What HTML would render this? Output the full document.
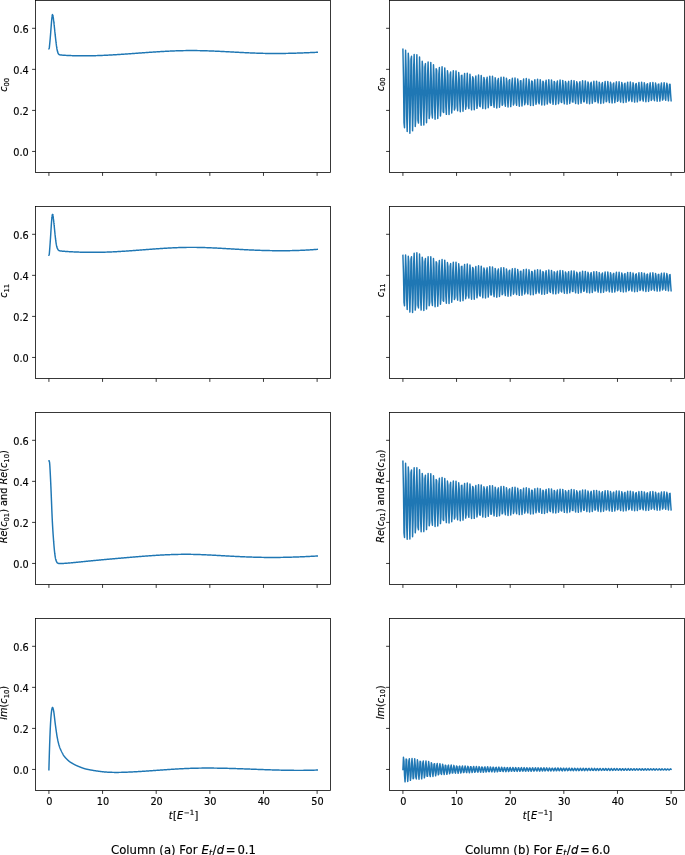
<!DOCTYPE html>
<html><head><meta charset="utf-8"><title>Figure</title>
<style>html,body{margin:0;padding:0;background:#fff}body{width:685px;height:855px;overflow:hidden}</style>
</head><body>
<svg width="685" height="855" viewBox="0 0 685 855" style="display:block">
<rect width="685" height="855" fill="#fff"/>
<g fill="none" stroke="#1f77b4" stroke-width="1.46" stroke-linejoin="round" stroke-linecap="square">
<path d="M48.90,48.80 L48.94,48.78 L48.97,48.76 L49.01,48.72 L49.05,48.67 L49.08,48.60 L49.12,48.51 L49.15,48.39 L49.19,48.26 L49.23,48.10 L49.26,47.91 L49.30,47.68 L49.34,47.43 L49.37,47.14 L49.41,46.82 L49.45,46.48 L49.48,46.14 L49.52,45.79 L49.55,45.44 L49.59,45.09 L49.63,44.73 L49.66,44.37 L49.70,44.01 L49.74,43.64 L49.77,43.27 L49.81,42.89 L49.84,42.51 L49.88,42.12 L49.92,41.74 L49.95,41.34 L49.99,40.95 L50.03,40.55 L50.06,40.15 L50.10,39.74 L50.14,39.33 L50.17,38.91 L50.21,38.49 L50.24,38.07 L50.28,37.65 L50.32,37.22 L50.35,36.78 L50.39,36.35 L50.43,35.91 L50.46,35.46 L50.50,35.01 L50.54,34.56 L50.57,34.10 L50.61,33.64 L50.64,33.18 L50.68,32.71 L50.72,32.24 L50.75,31.77 L50.79,31.30 L50.83,30.82 L50.86,30.35 L50.90,29.87 L50.94,29.39 L50.97,28.92 L51.01,28.44 L51.04,27.96 L51.08,27.49 L51.12,27.01 L51.15,26.54 L51.19,26.07 L51.23,25.60 L51.26,25.13 L51.30,24.67 L51.33,24.21 L51.37,23.76 L51.41,23.31 L51.44,22.86 L51.48,22.43 L51.52,22.00 L51.55,21.58 L51.59,21.17 L51.63,20.77 L51.66,20.37 L51.70,19.98 L51.73,19.60 L51.77,19.22 L51.81,18.86 L51.84,18.49 L51.88,18.14 L51.92,17.79 L51.95,17.44 L51.99,17.10 L52.03,16.77 L52.06,16.47 L52.10,16.18 L52.13,15.92 L52.17,15.69 L52.21,15.47 L52.24,15.28 L52.28,15.12 L52.32,14.97 L52.35,14.85 L52.39,14.75 L52.43,14.67 L52.46,14.62 L52.50,14.58 L52.53,14.57 L52.57,14.58 L52.61,14.61 L52.64,14.65 L52.68,14.71 L52.72,14.78 L52.75,14.86 L52.79,14.95 L52.82,15.06 L52.86,15.18 L52.90,15.32 L52.93,15.47 L52.97,15.63 L53.01,15.81 L53.04,16.00 L53.08,16.20 L53.12,16.43 L53.15,16.66 L53.19,16.91 L53.22,17.18 L53.26,17.45 L53.30,17.71 L53.33,17.98 L53.37,18.25 L53.41,18.52 L53.44,18.80 L53.48,19.07 L53.52,19.35 L53.55,19.63 L53.59,19.91 L53.62,20.20 L53.66,20.49 L53.70,20.78 L53.73,21.08 L53.77,21.38 L53.81,21.68 L53.84,21.99 L53.88,22.31 L53.92,22.63 L53.95,22.96 L53.99,23.29 L54.02,23.62 L54.06,23.96 L54.10,24.30 L54.13,24.65 L54.17,25.00 L54.21,25.34 L54.24,25.69 L54.28,26.05 L54.31,26.40 L54.35,26.76 L54.39,27.11 L54.42,27.47 L54.46,27.83 L54.50,28.18 L54.53,28.54 L54.57,28.90 L54.61,29.26 L54.64,29.62 L54.68,29.98 L54.71,30.34 L54.75,30.70 L54.79,31.05 L54.82,31.41 L54.86,31.76 L54.90,32.12 L54.93,32.47 L54.97,32.82 L55.01,33.17 L55.04,33.52 L55.08,33.86 L55.11,34.20 L55.15,34.54 L55.19,34.88 L55.22,35.21 L55.26,35.55 L55.30,35.88 L55.33,36.21 L55.37,36.54 L55.41,36.87 L55.44,37.19 L55.48,37.52 L55.51,37.84 L55.55,38.17 L55.59,38.49 L55.62,38.81 L55.66,39.12 L55.70,39.44 L55.73,39.75 L55.77,40.07 L55.80,40.38 L55.84,40.69 L55.88,41.00 L55.91,41.30 L55.95,41.61 L55.99,41.91 L56.02,42.21 L56.06,42.51 L56.10,42.80 L56.13,43.10 L56.17,43.39 L56.20,43.68 L56.24,43.97 L56.28,44.25 L56.31,44.54 L56.35,44.82 L56.39,45.10 L56.42,45.38 L56.46,45.65 L56.50,45.93 L56.53,46.20 L56.57,46.47 L56.60,46.73 L56.64,46.99 L56.68,47.24 L56.71,47.49 L56.75,47.73 L56.79,47.96 L56.82,48.19 L56.86,48.41 L56.89,48.62 L56.93,48.83 L56.97,49.03 L57.00,49.23 L57.04,49.42 L57.08,49.60 L57.11,49.78 L57.15,49.95 L57.19,50.12 L57.22,50.29 L57.26,50.45 L57.29,50.60 L57.33,50.75 L57.37,50.90 L57.40,51.04 L57.44,51.18 L57.48,51.31 L57.51,51.45 L57.55,51.58 L57.59,51.70 L57.62,51.83 L57.66,51.96 L57.69,52.08 L57.73,52.20 L57.77,52.32 L57.80,52.43 L57.84,52.54 L57.88,52.65 L57.91,52.76 L57.95,52.86 L57.99,52.96 L58.02,53.06 L58.06,53.15 L58.09,53.24 L58.13,53.32 L58.17,53.40 L58.20,53.48 L58.24,53.55 L58.28,53.61 L58.31,53.68 L58.35,53.73 L58.38,53.78 L58.42,53.83 L58.46,53.87 L58.49,53.92 L58.53,53.96 L58.57,54.00 L58.60,54.05 L58.64,54.09 L58.68,54.13 L58.71,54.17 L58.75,54.21 L58.78,54.25 L58.82,54.29 L58.86,54.33 L58.89,54.37 L58.93,54.40 L58.97,54.44 L59.00,54.47 L59.04,54.50 L59.08,54.53 L59.11,54.56 L59.15,54.59 L59.18,54.62 L59.22,54.64 L59.26,54.67 L59.29,54.69 L59.33,54.71 L59.37,54.73 L59.40,54.74 L59.44,54.76 L59.48,54.77 L59.51,54.78 L59.55,54.79 L59.58,54.80 L59.62,54.80 L59.66,54.81 L59.69,54.81 L59.73,54.82 L59.77,54.82 L59.80,54.83 L59.84,54.83 L59.87,54.84 L59.91,54.84 L59.95,54.84 L59.98,54.85 L60.02,54.85 L60.06,54.86 L60.09,54.86 L60.13,54.87 L60.17,54.87 L60.20,54.88 L60.24,54.88 L60.27,54.89 L60.31,54.89 L60.35,54.90 L60.38,54.90 L60.42,54.91 L60.46,54.91 L60.49,54.91 L60.53,54.92 L60.57,54.92 L60.60,54.93 L60.64,54.93 L60.67,54.94 L60.71,54.94 L60.75,54.95 L60.78,54.95 L60.82,54.96 L60.86,54.96 L60.89,54.96 L60.93,54.97 L60.97,54.97 L61.00,54.98 L61.04,54.98 L61.07,54.99 L61.11,54.99 L61.15,55.00 L61.18,55.00 L61.22,55.00 L61.26,55.01 L61.29,55.01 L61.33,55.02 L61.36,55.02 L61.40,55.03 L61.44,55.03 L61.47,55.03 L61.51,55.04 L61.55,55.04 L61.58,55.05 L61.62,55.05 L61.66,55.06 L61.69,55.06 L61.73,55.06 L61.76,55.07 L61.80,55.07 L61.84,55.08 L61.87,55.08 L61.91,55.08 L61.95,55.09 L61.98,55.09 L62.02,55.09 L62.06,55.10 L62.09,55.10 L62.13,55.11 L62.16,55.11 L62.20,55.11 L62.24,55.12 L62.27,55.12 L62.31,55.12 L62.35,55.13 L62.38,55.13 L62.42,55.13 L62.46,55.14 L62.49,55.14 L62.53,55.14 L62.56,55.15 L62.60,55.15 L62.64,55.15 L62.67,55.16 L62.71,55.16 L62.75,55.16 L62.78,55.17 L62.82,55.17 L62.85,55.17 L62.89,55.18 L62.93,55.18 L62.96,55.18 L63.00,55.18 L63.04,55.19 L63.07,55.19 L63.11,55.19 L63.15,55.19 L63.18,55.20 L63.22,55.20 L63.25,55.20 L63.29,55.20 L63.33,55.21 L63.36,55.21 L63.40,55.21 L63.72,55.23 L64.04,55.25 L64.35,55.27 L64.67,55.29 L64.99,55.31 L65.31,55.33 L65.62,55.35 L65.94,55.36 L66.26,55.38 L66.58,55.40 L66.90,55.42 L67.21,55.43 L67.53,55.45 L67.85,55.46 L68.17,55.48 L68.48,55.49 L68.80,55.51 L69.12,55.52 L69.44,55.54 L69.76,55.55 L70.07,55.56 L70.39,55.58 L70.71,55.59 L71.03,55.60 L71.34,55.61 L71.66,55.63 L71.98,55.64 L72.30,55.65 L72.62,55.66 L72.93,55.67 L73.25,55.68 L73.57,55.69 L73.89,55.70 L74.20,55.71 L74.52,55.72 L74.84,55.72 L75.16,55.73 L75.48,55.74 L75.79,55.75 L76.11,55.75 L76.43,55.76 L76.75,55.77 L77.06,55.77 L77.38,55.78 L77.70,55.79 L78.02,55.79 L78.34,55.80 L78.65,55.80 L78.97,55.80 L79.29,55.81 L79.61,55.81 L79.92,55.82 L80.24,55.82 L80.56,55.82 L80.88,55.82 L81.20,55.83 L81.51,55.83 L81.83,55.83 L82.15,55.83 L82.47,55.83 L82.78,55.83 L83.10,55.83 L83.42,55.83 L83.74,55.83 L84.06,55.83 L84.37,55.83 L84.69,55.83 L85.01,55.83 L85.33,55.83 L85.64,55.83 L85.96,55.83 L86.28,55.82 L86.60,55.82 L86.92,55.82 L87.23,55.82 L87.55,55.81 L87.87,55.81 L88.19,55.81 L88.50,55.80 L88.82,55.80 L89.14,55.79 L89.46,55.79 L89.78,55.78 L90.09,55.78 L90.41,55.77 L90.73,55.77 L91.05,55.76 L91.36,55.76 L91.68,55.75 L92.00,55.74 L92.32,55.74 L92.64,55.73 L92.95,55.72 L93.27,55.71 L93.59,55.71 L93.91,55.70 L94.22,55.69 L94.54,55.68 L94.86,55.67 L95.18,55.66 L95.49,55.65 L95.81,55.65 L96.13,55.64 L96.45,55.63 L96.77,55.62 L97.08,55.61 L97.40,55.60 L97.72,55.59 L98.04,55.57 L98.35,55.56 L98.67,55.55 L98.99,55.54 L99.31,55.53 L99.63,55.52 L99.94,55.51 L100.26,55.49 L100.58,55.48 L100.90,55.47 L101.21,55.46 L101.53,55.44 L101.85,55.43 L102.17,55.42 L102.49,55.40 L102.80,55.39 L103.12,55.38 L103.44,55.36 L103.76,55.35 L104.07,55.33 L104.39,55.32 L104.71,55.30 L105.03,55.29 L105.35,55.28 L105.66,55.26 L105.98,55.24 L106.30,55.23 L106.62,55.21 L106.93,55.20 L107.25,55.18 L107.57,55.17 L107.89,55.15 L108.21,55.13 L108.52,55.12 L108.84,55.10 L109.16,55.08 L109.48,55.07 L109.79,55.05 L110.11,55.03 L110.43,55.01 L110.75,55.00 L111.07,54.98 L111.38,54.96 L111.70,54.94 L112.02,54.93 L112.34,54.91 L112.65,54.89 L112.97,54.87 L113.29,54.85 L113.61,54.83 L113.93,54.81 L114.24,54.80 L114.56,54.78 L114.88,54.76 L115.20,54.74 L115.51,54.72 L115.83,54.70 L116.15,54.68 L116.47,54.66 L116.79,54.64 L117.10,54.62 L117.42,54.60 L117.74,54.58 L118.06,54.56 L118.37,54.54 L118.69,54.52 L119.01,54.50 L119.33,54.48 L119.65,54.46 L119.96,54.44 L120.28,54.41 L120.60,54.39 L120.92,54.37 L121.23,54.35 L121.55,54.33 L121.87,54.31 L122.19,54.29 L122.51,54.27 L122.82,54.24 L123.14,54.22 L123.46,54.20 L123.78,54.18 L124.09,54.16 L124.41,54.14 L124.73,54.11 L125.05,54.09 L125.37,54.07 L125.68,54.05 L126.00,54.03 L126.32,54.00 L126.64,53.98 L126.95,53.96 L127.27,53.94 L127.59,53.91 L127.91,53.89 L128.23,53.87 L128.54,53.85 L128.86,53.82 L129.18,53.80 L129.50,53.78 L129.81,53.75 L130.13,53.73 L130.45,53.71 L130.77,53.69 L131.09,53.66 L131.40,53.64 L131.72,53.62 L132.04,53.59 L132.36,53.57 L132.67,53.55 L132.99,53.52 L133.31,53.50 L133.63,53.48 L133.95,53.45 L134.26,53.43 L134.58,53.41 L134.90,53.38 L135.22,53.36 L135.53,53.34 L135.85,53.31 L136.17,53.29 L136.49,53.27 L136.81,53.24 L137.12,53.22 L137.44,53.20 L137.76,53.17 L138.08,53.15 L138.39,53.13 L138.71,53.10 L139.03,53.08 L139.35,53.06 L139.67,53.03 L139.98,53.01 L140.30,52.99 L140.62,52.97 L140.94,52.94 L141.25,52.92 L141.57,52.90 L141.89,52.87 L142.21,52.85 L142.53,52.83 L142.84,52.80 L143.16,52.78 L143.48,52.76 L143.80,52.73 L144.11,52.71 L144.43,52.69 L144.75,52.66 L145.07,52.64 L145.39,52.62 L145.70,52.60 L146.02,52.57 L146.34,52.55 L146.66,52.53 L146.97,52.51 L147.29,52.48 L147.61,52.46 L147.93,52.44 L148.25,52.42 L148.56,52.39 L148.88,52.37 L149.20,52.35 L149.52,52.33 L149.83,52.30 L150.15,52.28 L150.47,52.26 L150.79,52.24 L151.11,52.22 L151.42,52.19 L151.74,52.17 L152.06,52.15 L152.38,52.13 L152.69,52.11 L153.01,52.09 L153.33,52.07 L153.65,52.04 L153.97,52.02 L154.28,52.00 L154.60,51.98 L154.92,51.96 L155.24,51.94 L155.55,51.92 L155.87,51.90 L156.19,51.88 L156.51,51.86 L156.83,51.84 L157.14,51.82 L157.46,51.80 L157.78,51.78 L158.10,51.76 L158.41,51.74 L158.73,51.72 L159.05,51.70 L159.37,51.68 L159.68,51.66 L160.00,51.64 L160.32,51.62 L160.64,51.60 L160.96,51.58 L161.27,51.56 L161.59,51.54 L161.91,51.53 L162.23,51.51 L162.54,51.49 L162.86,51.47 L163.18,51.45 L163.50,51.43 L163.82,51.42 L164.13,51.40 L164.45,51.38 L164.77,51.36 L165.09,51.35 L165.40,51.33 L165.72,51.31 L166.04,51.30 L166.36,51.28 L166.68,51.26 L166.99,51.25 L167.31,51.23 L167.63,51.21 L167.95,51.20 L168.26,51.18 L168.58,51.17 L168.90,51.15 L169.22,51.14 L169.54,51.12 L169.85,51.11 L170.17,51.09 L170.49,51.08 L170.81,51.06 L171.12,51.05 L171.44,51.03 L171.76,51.02 L172.08,51.01 L172.40,50.99 L172.71,50.98 L173.03,50.96 L173.35,50.95 L173.67,50.94 L173.98,50.93 L174.30,50.91 L174.62,50.90 L174.94,50.89 L175.26,50.88 L175.57,50.87 L175.89,50.85 L176.21,50.84 L176.53,50.83 L176.84,50.82 L177.16,50.81 L177.48,50.80 L177.80,50.79 L178.12,50.78 L178.43,50.77 L178.75,50.76 L179.07,50.75 L179.39,50.74 L179.70,50.73 L180.02,50.72 L180.34,50.71 L180.66,50.71 L180.98,50.70 L181.29,50.69 L181.61,50.68 L181.93,50.67 L182.25,50.67 L182.56,50.66 L182.88,50.65 L183.20,50.65 L183.52,50.64 L183.84,50.63 L184.15,50.63 L184.47,50.62 L184.79,50.62 L185.11,50.61 L185.42,50.61 L185.74,50.60 L186.06,50.60 L186.38,50.59 L186.70,50.59 L187.01,50.59 L187.33,50.58 L187.65,50.58 L187.97,50.58 L188.28,50.57 L188.60,50.57 L188.92,50.57 L189.24,50.57 L189.56,50.56 L189.87,50.56 L190.19,50.56 L190.51,50.56 L190.83,50.56 L191.14,50.56 L191.46,50.56 L191.78,50.56 L192.10,50.56 L192.42,50.56 L192.73,50.56 L193.05,50.56 L193.37,50.57 L193.69,50.57 L194.00,50.57 L194.32,50.57 L194.64,50.57 L194.96,50.58 L195.28,50.58 L195.59,50.58 L195.91,50.59 L196.23,50.59 L196.55,50.59 L196.86,50.60 L197.18,50.60 L197.50,50.61 L197.82,50.61 L198.14,50.62 L198.45,50.62 L198.77,50.63 L199.09,50.63 L199.41,50.64 L199.72,50.64 L200.04,50.65 L200.36,50.66 L200.68,50.66 L201.00,50.67 L201.31,50.68 L201.63,50.68 L201.95,50.69 L202.27,50.70 L202.58,50.71 L202.90,50.72 L203.22,50.72 L203.54,50.73 L203.86,50.74 L204.17,50.75 L204.49,50.76 L204.81,50.77 L205.13,50.78 L205.44,50.79 L205.76,50.80 L206.08,50.81 L206.40,50.82 L206.72,50.83 L207.03,50.84 L207.35,50.85 L207.67,50.86 L207.99,50.87 L208.30,50.88 L208.62,50.89 L208.94,50.90 L209.26,50.91 L209.58,50.92 L209.89,50.94 L210.21,50.95 L210.53,50.96 L210.85,50.97 L211.16,50.98 L211.48,51.00 L211.80,51.01 L212.12,51.02 L212.44,51.03 L212.75,51.05 L213.07,51.06 L213.39,51.07 L213.71,51.09 L214.02,51.10 L214.34,51.11 L214.66,51.13 L214.98,51.14 L215.30,51.15 L215.61,51.17 L215.93,51.18 L216.25,51.20 L216.57,51.21 L216.88,51.23 L217.20,51.24 L217.52,51.25 L217.84,51.27 L218.16,51.28 L218.47,51.30 L218.79,51.31 L219.11,51.33 L219.43,51.34 L219.74,51.36 L220.06,51.37 L220.38,51.39 L220.70,51.41 L221.02,51.42 L221.33,51.44 L221.65,51.45 L221.97,51.47 L222.29,51.48 L222.60,51.50 L222.92,51.52 L223.24,51.53 L223.56,51.55 L223.87,51.56 L224.19,51.58 L224.51,51.60 L224.83,51.61 L225.15,51.63 L225.46,51.64 L225.78,51.66 L226.10,51.68 L226.42,51.69 L226.73,51.71 L227.05,51.73 L227.37,51.74 L227.69,51.76 L228.01,51.78 L228.32,51.79 L228.64,51.81 L228.96,51.83 L229.28,51.84 L229.59,51.86 L229.91,51.88 L230.23,51.89 L230.55,51.91 L230.87,51.93 L231.18,51.95 L231.50,51.96 L231.82,51.98 L232.14,52.00 L232.45,52.01 L232.77,52.03 L233.09,52.05 L233.41,52.06 L233.73,52.08 L234.04,52.10 L234.36,52.11 L234.68,52.13 L235.00,52.15 L235.31,52.16 L235.63,52.18 L235.95,52.20 L236.27,52.21 L236.59,52.23 L236.90,52.25 L237.22,52.27 L237.54,52.28 L237.86,52.30 L238.17,52.32 L238.49,52.33 L238.81,52.35 L239.13,52.36 L239.45,52.38 L239.76,52.40 L240.08,52.41 L240.40,52.43 L240.72,52.45 L241.03,52.46 L241.35,52.48 L241.67,52.50 L241.99,52.51 L242.31,52.53 L242.62,52.54 L242.94,52.56 L243.26,52.58 L243.58,52.59 L243.89,52.61 L244.21,52.62 L244.53,52.64 L244.85,52.65 L245.17,52.67 L245.48,52.68 L245.80,52.70 L246.12,52.71 L246.44,52.73 L246.75,52.74 L247.07,52.76 L247.39,52.77 L247.71,52.79 L248.03,52.80 L248.34,52.82 L248.66,52.83 L248.98,52.85 L249.30,52.86 L249.61,52.88 L249.93,52.89 L250.25,52.90 L250.57,52.92 L250.89,52.93 L251.20,52.94 L251.52,52.96 L251.84,52.97 L252.16,52.98 L252.47,53.00 L252.79,53.01 L253.11,53.02 L253.43,53.04 L253.75,53.05 L254.06,53.06 L254.38,53.07 L254.70,53.09 L255.02,53.10 L255.33,53.11 L255.65,53.12 L255.97,53.13 L256.29,53.14 L256.61,53.16 L256.92,53.17 L257.24,53.18 L257.56,53.19 L257.88,53.20 L258.19,53.21 L258.51,53.22 L258.83,53.23 L259.15,53.24 L259.47,53.25 L259.78,53.26 L260.10,53.27 L260.42,53.28 L260.74,53.29 L261.05,53.30 L261.37,53.31 L261.69,53.32 L262.01,53.32 L262.33,53.33 L262.64,53.34 L262.96,53.35 L263.28,53.36 L263.60,53.36 L263.91,53.37 L264.23,53.38 L264.55,53.39 L264.87,53.39 L265.19,53.40 L265.50,53.41 L265.82,53.41 L266.14,53.42 L266.46,53.42 L266.77,53.43 L267.09,53.43 L267.41,53.44 L267.73,53.44 L268.05,53.45 L268.36,53.45 L268.68,53.46 L269.00,53.46 L269.32,53.47 L269.63,53.47 L269.95,53.47 L270.27,53.48 L270.59,53.48 L270.91,53.48 L271.22,53.48 L271.54,53.49 L271.86,53.49 L272.18,53.49 L272.49,53.49 L272.81,53.49 L273.13,53.50 L273.45,53.50 L273.77,53.50 L274.08,53.50 L274.40,53.50 L274.72,53.50 L275.04,53.50 L275.35,53.50 L275.67,53.50 L275.99,53.50 L276.31,53.50 L276.63,53.50 L276.94,53.50 L277.26,53.50 L277.58,53.49 L277.90,53.49 L278.21,53.49 L278.53,53.49 L278.85,53.49 L279.17,53.48 L279.49,53.48 L279.80,53.48 L280.12,53.48 L280.44,53.47 L280.76,53.47 L281.07,53.47 L281.39,53.46 L281.71,53.46 L282.03,53.46 L282.35,53.45 L282.66,53.45 L282.98,53.45 L283.30,53.44 L283.62,53.44 L283.93,53.43 L284.25,53.43 L284.57,53.42 L284.89,53.42 L285.21,53.41 L285.52,53.41 L285.84,53.40 L286.16,53.39 L286.48,53.39 L286.79,53.38 L287.11,53.38 L287.43,53.37 L287.75,53.36 L288.06,53.36 L288.38,53.35 L288.70,53.34 L289.02,53.33 L289.34,53.33 L289.65,53.32 L289.97,53.31 L290.29,53.31 L290.61,53.30 L290.92,53.29 L291.24,53.28 L291.56,53.27 L291.88,53.26 L292.20,53.26 L292.51,53.25 L292.83,53.24 L293.15,53.23 L293.47,53.22 L293.78,53.21 L294.10,53.20 L294.42,53.19 L294.74,53.18 L295.06,53.17 L295.37,53.17 L295.69,53.16 L296.01,53.15 L296.33,53.14 L296.64,53.13 L296.96,53.12 L297.28,53.10 L297.60,53.09 L297.92,53.08 L298.23,53.07 L298.55,53.06 L298.87,53.05 L299.19,53.04 L299.50,53.03 L299.82,53.02 L300.14,53.01 L300.46,53.00 L300.78,52.98 L301.09,52.97 L301.41,52.96 L301.73,52.95 L302.05,52.94 L302.36,52.93 L302.68,52.91 L303.00,52.90 L303.32,52.89 L303.64,52.88 L303.95,52.86 L304.27,52.85 L304.59,52.84 L304.91,52.83 L305.22,52.81 L305.54,52.80 L305.86,52.79 L306.18,52.78 L306.50,52.76 L306.81,52.75 L307.13,52.74 L307.45,52.72 L307.77,52.71 L308.08,52.70 L308.40,52.68 L308.72,52.67 L309.04,52.66 L309.36,52.64 L309.67,52.63 L309.99,52.62 L310.31,52.60 L310.63,52.59 L310.94,52.57 L311.26,52.56 L311.58,52.55 L311.90,52.53 L312.22,52.52 L312.53,52.50 L312.85,52.49 L313.17,52.47 L313.49,52.46 L313.80,52.45 L314.12,52.43 L314.44,52.42 L314.76,52.40 L315.08,52.39 L315.39,52.37 L315.71,52.36 L316.03,52.34 L316.35,52.33 L316.66,52.31 L316.98,52.30 L317.30,52.28"/>
<path d="M402.91,49.34 L403.45,76.49 L403.98,122.62 L404.52,127.70 L405.06,85.12 L405.59,50.25 L406.13,68.45 L406.66,116.15 L407.20,131.46 L407.74,94.52 L408.27,53.22 L408.81,61.14 L409.35,108.08 L409.88,133.31 L410.42,104.04 L410.96,59.07 L411.49,56.33 L412.03,98.54 L412.57,130.86 L413.10,112.19 L413.64,67.47 L414.17,54.42 L414.71,89.15 L415.25,126.41 L415.78,118.61 L416.32,76.64 L416.86,54.80 L417.39,80.61 L417.93,120.33 L418.47,123.10 L419.00,86.00 L419.54,57.10 L420.07,73.20 L420.61,112.95 L421.15,125.25 L421.68,94.90 L422.22,61.34 L422.76,67.41 L423.29,104.65 L423.83,125.07 L424.37,102.96 L424.90,67.22 L425.44,63.61 L425.98,96.14 L426.51,122.77 L427.05,109.70 L427.58,74.27 L428.12,61.95 L428.66,88.00 L429.19,118.61 L429.73,114.76 L430.27,81.96 L430.80,62.41 L431.34,80.74 L431.88,112.97 L432.41,117.90 L432.95,89.73 L433.48,64.79 L434.02,74.73 L434.56,106.40 L435.09,119.19 L435.63,97.09 L436.17,68.73 L436.70,70.25 L437.24,99.26 L437.78,118.46 L438.31,103.58 L438.85,74.04 L439.39,67.59 L439.92,92.07 L440.46,115.91 L440.99,108.81 L441.53,80.25 L442.07,66.82 L442.60,85.34 L443.14,111.80 L443.68,112.47 L444.21,86.87 L444.75,67.89 L445.29,79.52 L445.82,106.53 L446.36,114.39 L446.89,93.40 L447.43,70.63 L447.97,74.99 L448.50,100.53 L449.04,114.52 L449.58,99.36 L450.11,74.72 L450.65,71.99 L451.19,94.30 L451.72,112.96 L452.26,104.35 L452.80,79.78 L453.33,70.65 L453.87,88.30 L454.40,109.93 L454.94,108.11 L455.48,85.39 L456.01,70.87 L456.55,82.95 L457.09,106.04 L457.62,110.70 L458.16,91.20 L458.70,72.58 L459.23,78.52 L459.77,101.24 L460.30,111.73 L460.84,96.80 L461.38,75.68 L461.91,75.28 L462.45,95.94 L462.99,111.21 L463.52,101.77 L464.06,79.87 L464.60,73.46 L465.13,90.56 L465.67,109.24 L466.21,105.77 L466.74,84.80 L467.28,73.15 L467.81,85.54 L468.35,106.02 L468.89,108.52 L469.42,90.06 L469.96,74.30 L470.50,81.24 L471.03,101.87 L471.57,109.88 L472.11,95.24 L472.64,76.78 L473.18,77.99 L473.71,97.16 L474.25,109.80 L474.79,99.95 L475.32,80.35 L475.86,75.99 L476.40,92.25 L476.93,108.38 L477.47,103.86 L478.01,84.55 L478.54,75.09 L479.08,87.45 L479.62,105.78 L480.15,106.74 L480.69,89.21 L481.22,75.58 L481.76,83.15 L482.30,102.18 L482.83,108.40 L483.37,93.98 L483.91,77.36 L484.44,79.68 L484.98,97.89 L485.52,108.76 L486.05,98.51 L486.59,80.29 L487.12,77.30 L487.66,93.27 L488.20,107.79 L488.73,102.43 L489.27,84.09 L489.81,76.17 L490.34,88.67 L490.88,105.61 L491.42,105.43 L491.95,88.45 L492.49,76.35 L493.03,84.47 L493.56,102.40 L494.10,107.29 L494.63,93.01 L495.17,77.80 L495.71,81.00 L496.24,98.45 L496.78,107.90 L497.32,97.39 L497.85,80.38 L498.39,78.52 L498.93,94.09 L499.46,107.22 L500.00,101.25 L500.53,83.86 L501.07,77.21 L501.61,89.70 L502.14,105.35 L502.68,104.28 L503.22,87.93 L503.75,77.16 L504.29,85.62 L504.83,102.46 L505.36,106.25 L505.90,92.25 L506.44,78.33 L506.97,82.18 L507.51,98.82 L508.04,107.04 L508.58,96.46 L509.12,80.61 L509.65,79.65 L510.19,94.73 L510.73,106.61 L511.26,100.22 L511.80,83.78 L512.34,78.22 L512.87,90.54 L513.41,105.01 L513.94,103.24 L514.48,87.57 L515.02,77.97 L515.55,86.60 L516.09,102.41 L516.63,105.29 L517.16,91.65 L517.70,78.91 L518.24,83.23 L518.77,99.05 L519.31,106.21 L519.85,95.68 L520.38,80.89 L520.92,80.66 L521.45,95.21 L521.99,106.00 L522.53,99.34 L523.06,83.75 L523.60,79.06 L524.14,91.20 L524.67,104.67 L525.21,102.35 L525.75,87.25 L526.28,78.60 L526.82,87.35 L527.35,102.33 L527.89,104.47 L528.43,91.11 L528.96,79.27 L529.50,83.98 L530.04,99.19 L530.57,105.54 L531.11,95.00 L531.65,81.01 L532.18,81.36 L532.72,95.54 L533.26,105.49 L533.79,98.58 L534.33,83.66 L534.86,79.70 L535.40,91.69 L535.94,104.34 L536.47,101.57 L537.01,86.97 L537.55,79.11 L538.08,87.95 L538.62,102.20 L539.16,103.74 L539.69,90.66 L540.23,79.62 L540.76,84.64 L541.30,99.28 L541.84,104.91 L542.37,94.42 L542.91,81.18 L543.45,82.02 L543.98,95.81 L544.52,105.00 L545.06,97.93 L545.59,83.64 L546.13,80.30 L546.67,92.11 L547.20,104.02 L547.74,100.90 L548.27,86.77 L548.81,79.61 L549.35,88.48 L549.88,102.06 L550.42,103.09 L550.96,90.31 L551.49,79.99 L552.03,85.23 L552.57,99.32 L553.10,104.33 L553.64,93.94 L554.17,81.39 L554.71,82.62 L555.25,96.02 L555.78,104.53 L556.32,97.36 L556.86,83.68 L557.39,80.87 L557.93,92.46 L558.47,103.68 L559.00,100.29 L559.54,86.64 L560.08,80.10 L560.61,88.95 L561.15,101.89 L561.68,102.48 L562.22,90.02 L562.76,80.36 L563.29,85.76 L563.83,99.33 L564.37,103.81 L564.90,93.54 L565.44,81.60 L565.98,83.16 L566.51,96.21 L567.05,104.15 L567.58,96.91 L568.12,83.72 L568.66,81.35 L569.19,92.79 L569.73,103.48 L570.27,99.84 L570.80,86.54 L571.34,80.49 L571.88,89.36 L572.41,101.85 L572.95,102.09 L573.49,89.81 L574.02,80.63 L574.56,86.21 L575.09,99.43 L575.63,103.48 L576.17,93.25 L576.70,81.76 L577.24,83.61 L577.78,96.42 L578.31,103.90 L578.85,96.56 L579.39,83.76 L579.92,81.77 L580.46,93.10 L580.99,103.33 L581.53,99.48 L582.07,86.47 L582.60,80.85 L583.14,89.73 L583.68,101.81 L584.21,101.74 L584.75,89.64 L585.29,80.91 L585.82,86.62 L586.36,99.50 L586.90,103.17 L587.43,93.00 L587.97,81.93 L588.50,84.03 L589.04,96.60 L589.58,103.66 L590.11,96.26 L590.65,83.83 L591.19,82.17 L591.72,93.36 L592.26,103.16 L592.80,99.14 L593.33,86.43 L593.87,81.20 L594.40,90.07 L594.94,101.75 L595.48,101.41 L596.01,89.51 L596.55,81.19 L597.09,87.00 L597.62,99.54 L598.16,102.87 L598.70,92.78 L599.23,82.13 L599.77,84.43 L600.31,96.74 L600.84,103.41 L601.38,95.98 L601.91,83.93 L602.45,82.56 L602.99,93.59 L603.52,102.99 L604.06,98.83 L604.60,86.43 L605.13,81.55 L605.67,90.37 L606.21,101.66 L606.74,101.07 L607.28,89.39 L607.81,81.47 L608.35,87.34 L608.89,99.50 L609.42,102.51 L609.96,92.56 L610.50,82.32 L611.03,84.77 L611.57,96.77 L612.11,103.04 L612.64,95.65 L613.18,84.01 L613.72,82.90 L614.25,93.69 L614.79,102.64 L615.32,98.40 L615.86,86.38 L616.40,81.85 L616.93,90.53 L617.47,101.36 L618.01,100.59 L618.54,89.22 L619.08,81.72 L619.62,87.58 L620.15,99.32 L620.69,102.02 L621.22,92.28 L621.76,82.49 L622.30,85.06 L622.83,96.69 L623.37,102.59 L623.91,95.28 L624.44,84.08 L624.98,83.20 L625.52,93.72 L626.05,102.25 L626.59,97.97 L627.13,86.35 L627.66,82.14 L628.20,90.67 L628.73,101.06 L629.27,100.12 L629.81,89.08 L630.34,81.96 L630.88,87.79 L631.42,99.11 L631.95,101.55 L632.49,92.03 L633.03,82.66 L633.56,85.32 L634.10,96.60 L634.63,102.14 L635.17,94.95 L635.71,84.17 L636.24,83.49 L636.78,93.73 L637.32,101.86 L637.85,97.57 L638.39,86.33 L638.93,82.42 L639.46,90.77 L640.00,100.75 L640.54,99.68 L641.07,88.96 L641.61,82.20 L642.14,87.97 L642.68,98.89 L643.22,101.10 L643.75,91.81 L644.29,82.84 L644.83,85.56 L645.36,96.48 L645.90,101.71 L646.44,94.63 L646.97,84.26 L647.51,83.75 L648.04,93.72 L648.58,101.48 L649.12,97.19 L649.65,86.33 L650.19,82.68 L650.73,90.85 L651.26,100.43 L651.80,99.26 L652.34,88.85 L652.87,82.44 L653.41,88.13 L653.95,98.67 L654.48,100.66 L655.02,91.61 L655.55,83.02 L656.09,85.78 L656.63,96.35 L657.16,101.29 L657.70,94.35 L658.24,84.36 L658.77,84.00 L659.31,93.69 L659.85,101.10 L660.38,96.83 L660.92,86.34 L661.45,82.93 L661.99,90.92 L662.53,100.11 L663.06,98.86 L663.60,88.76 L664.14,82.66 L664.67,88.27 L665.21,98.43 L665.75,100.24 L666.28,91.42 L666.82,83.19 L667.36,85.98 L667.89,96.21 L668.43,100.88 L668.96,94.08 L669.50,84.46 L670.04,84.23 L670.57,93.64 L671.11,100.72"/>
<path d="M48.90,255.20 L48.94,255.19 L48.97,255.17 L49.01,255.14 L49.05,255.09 L49.08,255.01 L49.12,254.91 L49.15,254.78 L49.19,254.62 L49.23,254.42 L49.26,254.19 L49.30,253.91 L49.34,253.59 L49.37,253.22 L49.41,252.79 L49.45,252.35 L49.48,251.91 L49.52,251.46 L49.55,251.00 L49.59,250.55 L49.63,250.08 L49.66,249.62 L49.70,249.15 L49.74,248.67 L49.77,248.19 L49.81,247.71 L49.84,247.23 L49.88,246.74 L49.92,246.25 L49.95,245.75 L49.99,245.25 L50.03,244.75 L50.06,244.24 L50.10,243.73 L50.14,243.22 L50.17,242.70 L50.21,242.18 L50.24,241.66 L50.28,241.13 L50.32,240.60 L50.35,240.07 L50.39,239.54 L50.43,239.00 L50.46,238.46 L50.50,237.92 L50.54,237.37 L50.57,236.82 L50.61,236.26 L50.64,235.70 L50.68,235.13 L50.72,234.56 L50.75,233.99 L50.79,233.42 L50.83,232.84 L50.86,232.27 L50.90,231.69 L50.94,231.11 L50.97,230.54 L51.01,229.96 L51.04,229.38 L51.08,228.81 L51.12,228.24 L51.15,227.67 L51.19,227.10 L51.23,226.54 L51.26,225.98 L51.30,225.42 L51.33,224.87 L51.37,224.33 L51.41,223.79 L51.44,223.26 L51.48,222.76 L51.52,222.26 L51.55,221.78 L51.59,221.32 L51.63,220.87 L51.66,220.43 L51.70,220.01 L51.73,219.60 L51.77,219.20 L51.81,218.81 L51.84,218.43 L51.88,218.06 L51.92,217.70 L51.95,217.35 L51.99,217.00 L52.03,216.67 L52.06,216.36 L52.10,216.07 L52.13,215.81 L52.17,215.56 L52.21,215.34 L52.24,215.14 L52.28,214.97 L52.32,214.81 L52.35,214.68 L52.39,214.58 L52.43,214.49 L52.46,214.43 L52.50,214.39 L52.53,214.37 L52.57,214.38 L52.61,214.41 L52.64,214.45 L52.68,214.51 L52.72,214.57 L52.75,214.65 L52.79,214.74 L52.82,214.85 L52.86,214.97 L52.90,215.10 L52.93,215.25 L52.97,215.42 L53.01,215.61 L53.04,215.81 L53.08,216.03 L53.12,216.27 L53.15,216.53 L53.19,216.81 L53.22,217.10 L53.26,217.40 L53.30,217.70 L53.33,218.00 L53.37,218.30 L53.41,218.61 L53.44,218.91 L53.48,219.22 L53.52,219.53 L53.55,219.84 L53.59,220.16 L53.62,220.48 L53.66,220.79 L53.70,221.12 L53.73,221.44 L53.77,221.77 L53.81,222.10 L53.84,222.43 L53.88,222.76 L53.92,223.10 L53.95,223.44 L53.99,223.78 L54.02,224.13 L54.06,224.48 L54.10,224.83 L54.13,225.19 L54.17,225.55 L54.21,225.91 L54.24,226.27 L54.28,226.64 L54.31,227.01 L54.35,227.38 L54.39,227.75 L54.42,228.12 L54.46,228.49 L54.50,228.86 L54.53,229.24 L54.57,229.61 L54.61,229.99 L54.64,230.36 L54.68,230.73 L54.71,231.11 L54.75,231.48 L54.79,231.85 L54.82,232.22 L54.86,232.58 L54.90,232.95 L54.93,233.31 L54.97,233.67 L55.01,234.03 L55.04,234.39 L55.08,234.74 L55.11,235.09 L55.15,235.44 L55.19,235.78 L55.22,236.12 L55.26,236.45 L55.30,236.78 L55.33,237.11 L55.37,237.44 L55.41,237.76 L55.44,238.07 L55.48,238.39 L55.51,238.70 L55.55,239.00 L55.59,239.31 L55.62,239.60 L55.66,239.90 L55.70,240.19 L55.73,240.47 L55.77,240.76 L55.80,241.03 L55.84,241.31 L55.88,241.57 L55.91,241.84 L55.95,242.10 L55.99,242.35 L56.02,242.60 L56.06,242.85 L56.10,243.09 L56.13,243.32 L56.17,243.56 L56.20,243.78 L56.24,244.00 L56.28,244.22 L56.31,244.43 L56.35,244.63 L56.39,244.83 L56.42,245.03 L56.46,245.22 L56.50,245.40 L56.53,245.58 L56.57,245.75 L56.60,245.92 L56.64,246.08 L56.68,246.24 L56.71,246.39 L56.75,246.54 L56.79,246.68 L56.82,246.82 L56.86,246.96 L56.89,247.09 L56.93,247.22 L56.97,247.34 L57.00,247.46 L57.04,247.57 L57.08,247.68 L57.11,247.79 L57.15,247.89 L57.19,247.99 L57.22,248.09 L57.26,248.18 L57.29,248.27 L57.33,248.35 L57.37,248.43 L57.40,248.51 L57.44,248.58 L57.48,248.66 L57.51,248.72 L57.55,248.79 L57.59,248.86 L57.62,248.93 L57.66,249.00 L57.69,249.06 L57.73,249.13 L57.77,249.20 L57.80,249.26 L57.84,249.33 L57.88,249.39 L57.91,249.46 L57.95,249.52 L57.99,249.58 L58.02,249.63 L58.06,249.69 L58.09,249.74 L58.13,249.80 L58.17,249.85 L58.20,249.89 L58.24,249.94 L58.28,249.98 L58.31,250.02 L58.35,250.06 L58.38,250.09 L58.42,250.12 L58.46,250.15 L58.49,250.18 L58.53,250.20 L58.57,250.23 L58.60,250.26 L58.64,250.29 L58.68,250.32 L58.71,250.35 L58.75,250.37 L58.78,250.40 L58.82,250.43 L58.86,250.45 L58.89,250.48 L58.93,250.50 L58.97,250.53 L59.00,250.55 L59.04,250.57 L59.08,250.60 L59.11,250.62 L59.15,250.64 L59.18,250.66 L59.22,250.68 L59.26,250.69 L59.29,250.71 L59.33,250.72 L59.37,250.74 L59.40,250.75 L59.44,250.76 L59.48,250.77 L59.51,250.78 L59.55,250.79 L59.58,250.80 L59.62,250.80 L59.66,250.81 L59.69,250.81 L59.73,250.82 L59.77,250.82 L59.80,250.83 L59.84,250.83 L59.87,250.84 L59.91,250.84 L59.95,250.85 L59.98,250.86 L60.02,250.86 L60.06,250.87 L60.09,250.87 L60.13,250.88 L60.17,250.88 L60.20,250.89 L60.24,250.89 L60.27,250.90 L60.31,250.90 L60.35,250.91 L60.38,250.91 L60.42,250.92 L60.46,250.92 L60.49,250.93 L60.53,250.93 L60.57,250.94 L60.60,250.94 L60.64,250.95 L60.67,250.95 L60.71,250.96 L60.75,250.96 L60.78,250.97 L60.82,250.97 L60.86,250.98 L60.89,250.98 L60.93,250.99 L60.97,250.99 L61.00,251.00 L61.04,251.00 L61.07,251.01 L61.11,251.01 L61.15,251.02 L61.18,251.02 L61.22,251.03 L61.26,251.03 L61.29,251.04 L61.33,251.04 L61.36,251.05 L61.40,251.05 L61.44,251.06 L61.47,251.06 L61.51,251.07 L61.55,251.07 L61.58,251.07 L61.62,251.08 L61.66,251.08 L61.69,251.09 L61.73,251.09 L61.76,251.10 L61.80,251.10 L61.84,251.11 L61.87,251.11 L61.91,251.11 L61.95,251.12 L61.98,251.12 L62.02,251.13 L62.06,251.13 L62.09,251.14 L62.13,251.14 L62.16,251.14 L62.20,251.15 L62.24,251.15 L62.27,251.16 L62.31,251.16 L62.35,251.16 L62.38,251.17 L62.42,251.17 L62.46,251.18 L62.49,251.18 L62.53,251.18 L62.56,251.19 L62.60,251.19 L62.64,251.19 L62.67,251.20 L62.71,251.20 L62.75,251.20 L62.78,251.21 L62.82,251.21 L62.85,251.21 L62.89,251.22 L62.93,251.22 L62.96,251.22 L63.00,251.23 L63.04,251.23 L63.07,251.23 L63.11,251.24 L63.15,251.24 L63.18,251.24 L63.22,251.25 L63.25,251.25 L63.29,251.25 L63.33,251.25 L63.36,251.26 L63.40,251.26 L63.72,251.28 L64.04,251.30 L64.35,251.33 L64.67,251.35 L64.99,251.37 L65.31,251.40 L65.62,251.42 L65.94,251.44 L66.26,251.47 L66.58,251.49 L66.90,251.51 L67.21,251.53 L67.53,251.55 L67.85,251.57 L68.17,251.59 L68.48,251.61 L68.80,251.63 L69.12,251.65 L69.44,251.67 L69.76,251.68 L70.07,251.70 L70.39,251.72 L70.71,251.74 L71.03,251.76 L71.34,251.78 L71.66,251.79 L71.98,251.81 L72.30,251.83 L72.62,251.84 L72.93,251.86 L73.25,251.87 L73.57,251.89 L73.89,251.91 L74.20,251.92 L74.52,251.94 L74.84,251.95 L75.16,251.96 L75.48,251.98 L75.79,251.99 L76.11,252.01 L76.43,252.02 L76.75,252.03 L77.06,252.04 L77.38,252.06 L77.70,252.07 L78.02,252.08 L78.34,252.09 L78.65,252.10 L78.97,252.12 L79.29,252.13 L79.61,252.14 L79.92,252.15 L80.24,252.16 L80.56,252.17 L80.88,252.18 L81.20,252.19 L81.51,252.20 L81.83,252.20 L82.15,252.21 L82.47,252.22 L82.78,252.23 L83.10,252.24 L83.42,252.24 L83.74,252.25 L84.06,252.26 L84.37,252.27 L84.69,252.27 L85.01,252.28 L85.33,252.28 L85.64,252.29 L85.96,252.30 L86.28,252.30 L86.60,252.31 L86.92,252.31 L87.23,252.31 L87.55,252.32 L87.87,252.32 L88.19,252.33 L88.50,252.33 L88.82,252.33 L89.14,252.34 L89.46,252.34 L89.78,252.34 L90.09,252.34 L90.41,252.34 L90.73,252.35 L91.05,252.35 L91.36,252.35 L91.68,252.35 L92.00,252.35 L92.32,252.35 L92.64,252.35 L92.95,252.35 L93.27,252.35 L93.59,252.35 L93.91,252.35 L94.22,252.35 L94.54,252.35 L94.86,252.34 L95.18,252.34 L95.49,252.34 L95.81,252.34 L96.13,252.34 L96.45,252.33 L96.77,252.33 L97.08,252.33 L97.40,252.32 L97.72,252.32 L98.04,252.31 L98.35,252.31 L98.67,252.31 L98.99,252.30 L99.31,252.30 L99.63,252.29 L99.94,252.29 L100.26,252.28 L100.58,252.27 L100.90,252.27 L101.21,252.26 L101.53,252.25 L101.85,252.25 L102.17,252.24 L102.49,252.23 L102.80,252.22 L103.12,252.22 L103.44,252.21 L103.76,252.20 L104.07,252.19 L104.39,252.18 L104.71,252.17 L105.03,252.16 L105.35,252.15 L105.66,252.14 L105.98,252.13 L106.30,252.12 L106.62,252.11 L106.93,252.10 L107.25,252.09 L107.57,252.08 L107.89,252.07 L108.21,252.05 L108.52,252.04 L108.84,252.03 L109.16,252.02 L109.48,252.00 L109.79,251.99 L110.11,251.98 L110.43,251.96 L110.75,251.95 L111.07,251.94 L111.38,251.92 L111.70,251.91 L112.02,251.89 L112.34,251.88 L112.65,251.86 L112.97,251.85 L113.29,251.83 L113.61,251.82 L113.93,251.80 L114.24,251.79 L114.56,251.77 L114.88,251.75 L115.20,251.74 L115.51,251.72 L115.83,251.70 L116.15,251.69 L116.47,251.67 L116.79,251.65 L117.10,251.64 L117.42,251.62 L117.74,251.60 L118.06,251.58 L118.37,251.56 L118.69,251.55 L119.01,251.53 L119.33,251.51 L119.65,251.49 L119.96,251.47 L120.28,251.45 L120.60,251.43 L120.92,251.41 L121.23,251.39 L121.55,251.37 L121.87,251.35 L122.19,251.33 L122.51,251.31 L122.82,251.29 L123.14,251.27 L123.46,251.25 L123.78,251.23 L124.09,251.21 L124.41,251.19 L124.73,251.17 L125.05,251.15 L125.37,251.13 L125.68,251.11 L126.00,251.09 L126.32,251.06 L126.64,251.04 L126.95,251.02 L127.27,251.00 L127.59,250.98 L127.91,250.96 L128.23,250.93 L128.54,250.91 L128.86,250.89 L129.18,250.87 L129.50,250.84 L129.81,250.82 L130.13,250.80 L130.45,250.78 L130.77,250.75 L131.09,250.73 L131.40,250.71 L131.72,250.68 L132.04,250.66 L132.36,250.64 L132.67,250.61 L132.99,250.59 L133.31,250.57 L133.63,250.54 L133.95,250.52 L134.26,250.50 L134.58,250.47 L134.90,250.45 L135.22,250.43 L135.53,250.40 L135.85,250.38 L136.17,250.35 L136.49,250.33 L136.81,250.31 L137.12,250.28 L137.44,250.26 L137.76,250.23 L138.08,250.21 L138.39,250.19 L138.71,250.16 L139.03,250.14 L139.35,250.11 L139.67,250.09 L139.98,250.06 L140.30,250.04 L140.62,250.02 L140.94,249.99 L141.25,249.97 L141.57,249.94 L141.89,249.92 L142.21,249.89 L142.53,249.87 L142.84,249.85 L143.16,249.82 L143.48,249.80 L143.80,249.77 L144.11,249.75 L144.43,249.72 L144.75,249.70 L145.07,249.68 L145.39,249.65 L145.70,249.63 L146.02,249.60 L146.34,249.58 L146.66,249.55 L146.97,249.53 L147.29,249.51 L147.61,249.48 L147.93,249.46 L148.25,249.43 L148.56,249.41 L148.88,249.38 L149.20,249.36 L149.52,249.34 L149.83,249.31 L150.15,249.29 L150.47,249.27 L150.79,249.24 L151.11,249.22 L151.42,249.19 L151.74,249.17 L152.06,249.15 L152.38,249.12 L152.69,249.10 L153.01,249.08 L153.33,249.05 L153.65,249.03 L153.97,249.01 L154.28,248.98 L154.60,248.96 L154.92,248.94 L155.24,248.92 L155.55,248.89 L155.87,248.87 L156.19,248.85 L156.51,248.83 L156.83,248.80 L157.14,248.78 L157.46,248.76 L157.78,248.74 L158.10,248.71 L158.41,248.69 L158.73,248.67 L159.05,248.65 L159.37,248.63 L159.68,248.61 L160.00,248.58 L160.32,248.56 L160.64,248.54 L160.96,248.52 L161.27,248.50 L161.59,248.48 L161.91,248.46 L162.23,248.44 L162.54,248.42 L162.86,248.40 L163.18,248.38 L163.50,248.36 L163.82,248.34 L164.13,248.32 L164.45,248.30 L164.77,248.28 L165.09,248.26 L165.40,248.24 L165.72,248.22 L166.04,248.20 L166.36,248.18 L166.68,248.16 L166.99,248.15 L167.31,248.13 L167.63,248.11 L167.95,248.09 L168.26,248.07 L168.58,248.06 L168.90,248.04 L169.22,248.02 L169.54,248.00 L169.85,247.99 L170.17,247.97 L170.49,247.95 L170.81,247.94 L171.12,247.92 L171.44,247.90 L171.76,247.89 L172.08,247.87 L172.40,247.86 L172.71,247.84 L173.03,247.83 L173.35,247.81 L173.67,247.80 L173.98,247.78 L174.30,247.77 L174.62,247.76 L174.94,247.74 L175.26,247.73 L175.57,247.71 L175.89,247.70 L176.21,247.69 L176.53,247.67 L176.84,247.66 L177.16,247.65 L177.48,247.64 L177.80,247.63 L178.12,247.61 L178.43,247.60 L178.75,247.59 L179.07,247.58 L179.39,247.57 L179.70,247.56 L180.02,247.55 L180.34,247.54 L180.66,247.53 L180.98,247.52 L181.29,247.51 L181.61,247.50 L181.93,247.49 L182.25,247.48 L182.56,247.48 L182.88,247.47 L183.20,247.46 L183.52,247.45 L183.84,247.45 L184.15,247.44 L184.47,247.43 L184.79,247.43 L185.11,247.42 L185.42,247.41 L185.74,247.41 L186.06,247.40 L186.38,247.40 L186.70,247.39 L187.01,247.39 L187.33,247.38 L187.65,247.38 L187.97,247.38 L188.28,247.37 L188.60,247.37 L188.92,247.37 L189.24,247.37 L189.56,247.36 L189.87,247.36 L190.19,247.36 L190.51,247.36 L190.83,247.36 L191.14,247.36 L191.46,247.36 L191.78,247.36 L192.10,247.36 L192.42,247.36 L192.73,247.36 L193.05,247.36 L193.37,247.36 L193.69,247.36 L194.00,247.37 L194.32,247.37 L194.64,247.37 L194.96,247.37 L195.28,247.38 L195.59,247.38 L195.91,247.39 L196.23,247.39 L196.55,247.39 L196.86,247.40 L197.18,247.40 L197.50,247.41 L197.82,247.41 L198.14,247.42 L198.45,247.42 L198.77,247.43 L199.09,247.44 L199.41,247.44 L199.72,247.45 L200.04,247.46 L200.36,247.46 L200.68,247.47 L201.00,247.48 L201.31,247.49 L201.63,247.50 L201.95,247.50 L202.27,247.51 L202.58,247.52 L202.90,247.53 L203.22,247.54 L203.54,247.55 L203.86,247.56 L204.17,247.57 L204.49,247.58 L204.81,247.59 L205.13,247.60 L205.44,247.61 L205.76,247.62 L206.08,247.63 L206.40,247.64 L206.72,247.65 L207.03,247.67 L207.35,247.68 L207.67,247.69 L207.99,247.70 L208.30,247.71 L208.62,247.73 L208.94,247.74 L209.26,247.75 L209.58,247.77 L209.89,247.78 L210.21,247.79 L210.53,247.80 L210.85,247.82 L211.16,247.83 L211.48,247.85 L211.80,247.86 L212.12,247.87 L212.44,247.89 L212.75,247.90 L213.07,247.92 L213.39,247.93 L213.71,247.95 L214.02,247.96 L214.34,247.98 L214.66,247.99 L214.98,248.01 L215.30,248.02 L215.61,248.04 L215.93,248.06 L216.25,248.07 L216.57,248.09 L216.88,248.10 L217.20,248.12 L217.52,248.14 L217.84,248.15 L218.16,248.17 L218.47,248.19 L218.79,248.20 L219.11,248.22 L219.43,248.24 L219.74,248.25 L220.06,248.27 L220.38,248.29 L220.70,248.31 L221.02,248.32 L221.33,248.34 L221.65,248.36 L221.97,248.38 L222.29,248.39 L222.60,248.41 L222.92,248.43 L223.24,248.45 L223.56,248.46 L223.87,248.48 L224.19,248.50 L224.51,248.52 L224.83,248.54 L225.15,248.55 L225.46,248.57 L225.78,248.59 L226.10,248.61 L226.42,248.63 L226.73,248.65 L227.05,248.66 L227.37,248.68 L227.69,248.70 L228.01,248.72 L228.32,248.74 L228.64,248.76 L228.96,248.78 L229.28,248.79 L229.59,248.81 L229.91,248.83 L230.23,248.85 L230.55,248.87 L230.87,248.89 L231.18,248.91 L231.50,248.93 L231.82,248.94 L232.14,248.96 L232.45,248.98 L232.77,249.00 L233.09,249.02 L233.41,249.04 L233.73,249.06 L234.04,249.07 L234.36,249.09 L234.68,249.11 L235.00,249.13 L235.31,249.15 L235.63,249.17 L235.95,249.19 L236.27,249.20 L236.59,249.22 L236.90,249.24 L237.22,249.26 L237.54,249.28 L237.86,249.30 L238.17,249.31 L238.49,249.33 L238.81,249.35 L239.13,249.37 L239.45,249.39 L239.76,249.40 L240.08,249.42 L240.40,249.44 L240.72,249.46 L241.03,249.48 L241.35,249.49 L241.67,249.51 L241.99,249.53 L242.31,249.55 L242.62,249.56 L242.94,249.58 L243.26,249.60 L243.58,249.61 L243.89,249.63 L244.21,249.65 L244.53,249.66 L244.85,249.68 L245.17,249.70 L245.48,249.71 L245.80,249.73 L246.12,249.75 L246.44,249.76 L246.75,249.78 L247.07,249.79 L247.39,249.81 L247.71,249.83 L248.03,249.84 L248.34,249.86 L248.66,249.87 L248.98,249.89 L249.30,249.90 L249.61,249.92 L249.93,249.93 L250.25,249.95 L250.57,249.96 L250.89,249.98 L251.20,249.99 L251.52,250.01 L251.84,250.02 L252.16,250.03 L252.47,250.05 L252.79,250.06 L253.11,250.08 L253.43,250.09 L253.75,250.10 L254.06,250.12 L254.38,250.13 L254.70,250.14 L255.02,250.16 L255.33,250.17 L255.65,250.18 L255.97,250.19 L256.29,250.21 L256.61,250.22 L256.92,250.23 L257.24,250.24 L257.56,250.26 L257.88,250.27 L258.19,250.28 L258.51,250.29 L258.83,250.30 L259.15,250.31 L259.47,250.32 L259.78,250.34 L260.10,250.35 L260.42,250.36 L260.74,250.37 L261.05,250.38 L261.37,250.39 L261.69,250.40 L262.01,250.41 L262.33,250.42 L262.64,250.43 L262.96,250.44 L263.28,250.45 L263.60,250.46 L263.91,250.47 L264.23,250.47 L264.55,250.48 L264.87,250.49 L265.19,250.50 L265.50,250.51 L265.82,250.52 L266.14,250.53 L266.46,250.53 L266.77,250.54 L267.09,250.55 L267.41,250.56 L267.73,250.56 L268.05,250.57 L268.36,250.58 L268.68,250.58 L269.00,250.59 L269.32,250.60 L269.63,250.60 L269.95,250.61 L270.27,250.62 L270.59,250.62 L270.91,250.63 L271.22,250.63 L271.54,250.64 L271.86,250.64 L272.18,250.65 L272.49,250.65 L272.81,250.66 L273.13,250.66 L273.45,250.67 L273.77,250.67 L274.08,250.68 L274.40,250.68 L274.72,250.68 L275.04,250.69 L275.35,250.69 L275.67,250.69 L275.99,250.70 L276.31,250.70 L276.63,250.70 L276.94,250.71 L277.26,250.71 L277.58,250.71 L277.90,250.71 L278.21,250.71 L278.53,250.72 L278.85,250.72 L279.17,250.72 L279.49,250.72 L279.80,250.72 L280.12,250.72 L280.44,250.72 L280.76,250.72 L281.07,250.72 L281.39,250.72 L281.71,250.72 L282.03,250.72 L282.35,250.72 L282.66,250.72 L282.98,250.72 L283.30,250.72 L283.62,250.72 L283.93,250.71 L284.25,250.71 L284.57,250.71 L284.89,250.71 L285.21,250.71 L285.52,250.70 L285.84,250.70 L286.16,250.70 L286.48,250.70 L286.79,250.69 L287.11,250.69 L287.43,250.68 L287.75,250.68 L288.06,250.68 L288.38,250.67 L288.70,250.67 L289.02,250.66 L289.34,250.66 L289.65,250.65 L289.97,250.65 L290.29,250.64 L290.61,250.64 L290.92,250.63 L291.24,250.62 L291.56,250.62 L291.88,250.61 L292.20,250.60 L292.51,250.60 L292.83,250.59 L293.15,250.58 L293.47,250.57 L293.78,250.57 L294.10,250.56 L294.42,250.55 L294.74,250.54 L295.06,250.53 L295.37,250.52 L295.69,250.52 L296.01,250.51 L296.33,250.50 L296.64,250.49 L296.96,250.48 L297.28,250.47 L297.60,250.46 L297.92,250.44 L298.23,250.43 L298.55,250.42 L298.87,250.41 L299.19,250.40 L299.50,250.39 L299.82,250.38 L300.14,250.36 L300.46,250.35 L300.78,250.34 L301.09,250.32 L301.41,250.31 L301.73,250.30 L302.05,250.28 L302.36,250.27 L302.68,250.26 L303.00,250.24 L303.32,250.23 L303.64,250.21 L303.95,250.20 L304.27,250.18 L304.59,250.17 L304.91,250.15 L305.22,250.13 L305.54,250.12 L305.86,250.10 L306.18,250.08 L306.50,250.07 L306.81,250.05 L307.13,250.03 L307.45,250.01 L307.77,250.00 L308.08,249.98 L308.40,249.96 L308.72,249.94 L309.04,249.92 L309.36,249.90 L309.67,249.88 L309.99,249.86 L310.31,249.84 L310.63,249.82 L310.94,249.80 L311.26,249.78 L311.58,249.76 L311.90,249.74 L312.22,249.72 L312.53,249.69 L312.85,249.67 L313.17,249.65 L313.49,249.63 L313.80,249.60 L314.12,249.58 L314.44,249.56 L314.76,249.53 L315.08,249.51 L315.39,249.49 L315.71,249.46 L316.03,249.44 L316.35,249.41 L316.66,249.39 L316.98,249.36 L317.30,249.33"/>
<path d="M402.91,255.34 L403.45,272.56 L403.98,302.32 L404.52,305.83 L405.06,278.13 L405.59,255.08 L406.13,267.05 L406.66,299.01 L407.20,309.55 L407.74,284.60 L408.27,256.27 L408.81,261.60 L409.35,294.25 L409.88,312.13 L410.42,291.65 L410.96,259.10 L411.49,256.67 L412.03,287.84 L412.57,312.47 L413.10,298.47 L413.64,263.56 L414.17,253.17 L414.71,280.52 L415.25,310.12 L415.78,303.98 L416.32,270.38 L416.86,252.70 L417.39,273.44 L417.93,305.61 L418.47,307.89 L419.00,277.69 L419.54,254.05 L420.07,267.17 L420.61,299.87 L421.15,310.10 L421.68,285.03 L422.22,257.11 L422.76,262.09 L423.29,293.26 L423.83,310.50 L424.37,291.93 L424.90,261.68 L425.44,258.54 L425.98,286.19 L426.51,308.96 L427.05,297.83 L427.58,267.39 L428.12,256.71 L428.66,279.17 L429.19,305.72 L429.73,302.44 L430.27,273.85 L430.80,256.70 L431.34,272.71 L431.88,301.08 L432.41,305.49 L432.95,280.58 L433.48,258.43 L434.02,267.22 L434.56,295.38 L435.09,306.80 L435.63,287.10 L436.17,261.72 L436.70,263.04 L437.24,289.06 L437.78,306.34 L438.31,292.96 L438.85,266.29 L439.39,260.42 L439.92,282.57 L440.46,304.21 L440.99,297.79 L441.53,271.79 L442.07,259.49 L442.60,276.39 L443.14,300.63 L443.68,301.27 L444.21,277.76 L444.75,260.25 L445.29,270.94 L445.82,295.89 L446.36,303.19 L446.89,283.75 L447.43,262.57 L447.97,266.59 L448.50,290.40 L449.04,303.48 L449.58,289.32 L450.11,266.21 L450.65,263.61 L451.19,284.58 L451.72,302.18 L452.26,294.07 L452.80,270.84 L453.33,262.15 L453.87,278.88 L454.40,299.45 L454.94,297.72 L455.48,276.07 L456.01,262.23 L456.55,273.73 L457.09,295.72 L457.62,300.15 L458.16,281.55 L458.70,263.78 L459.23,269.43 L459.77,291.11 L460.30,301.13 L460.84,286.85 L461.38,266.66 L461.91,266.27 L462.45,286.01 L462.99,300.61 L463.52,291.57 L464.06,270.60 L464.60,264.45 L465.13,280.82 L465.67,298.70 L466.21,295.37 L466.74,275.26 L467.28,264.07 L467.81,275.94 L468.35,295.59 L468.89,297.99 L469.42,280.25 L469.96,265.10 L470.50,271.76 L471.03,291.58 L471.57,299.28 L472.11,285.19 L472.64,267.41 L473.18,268.55 L473.71,287.00 L474.25,299.18 L474.79,289.68 L475.32,270.77 L475.86,266.55 L476.40,282.24 L476.93,297.79 L477.47,293.43 L478.01,274.81 L478.54,265.70 L479.08,277.61 L479.62,295.26 L480.15,296.19 L480.69,279.30 L481.22,266.17 L481.76,273.46 L482.30,291.77 L482.83,297.76 L483.37,283.89 L483.91,267.90 L484.44,270.13 L484.98,287.64 L485.52,298.08 L486.05,288.23 L486.59,270.72 L487.12,267.85 L487.66,283.19 L488.20,297.13 L488.73,291.97 L489.27,274.38 L489.81,266.78 L490.34,278.77 L490.88,295.01 L491.42,294.84 L491.95,278.56 L492.49,266.96 L493.03,274.75 L493.56,291.92 L494.10,296.60 L494.63,282.92 L495.17,268.36 L495.71,271.43 L496.24,288.12 L496.78,297.16 L497.32,287.11 L497.85,270.84 L498.39,269.06 L498.93,283.95 L499.46,296.50 L500.00,290.78 L500.53,274.16 L501.07,267.82 L501.61,279.74 L502.14,294.69 L502.68,293.66 L503.22,278.05 L503.75,267.77 L504.29,275.85 L504.83,291.92 L505.36,295.53 L505.90,282.17 L506.44,268.90 L506.97,272.57 L507.51,288.43 L508.04,296.26 L508.58,286.17 L509.12,271.07 L509.65,270.17 L510.19,284.52 L510.73,295.82 L511.26,289.74 L511.80,274.10 L512.34,268.81 L512.87,280.53 L513.41,294.29 L513.94,292.60 L514.48,277.70 L515.02,268.58 L515.55,276.79 L516.09,291.80 L516.63,294.53 L517.16,281.58 L517.70,269.48 L518.24,273.58 L518.77,288.59 L519.31,295.39 L519.85,285.39 L520.38,271.36 L520.92,271.14 L521.45,284.95 L521.99,295.20 L522.53,288.87 L523.06,274.07 L523.60,269.62 L524.14,281.14 L524.67,293.93 L525.21,291.73 L525.75,277.39 L526.28,269.17 L526.82,277.48 L527.35,291.71 L527.89,293.76 L528.43,281.06 L528.96,269.80 L529.50,274.28 L530.04,288.74 L530.57,294.78 L531.11,284.75 L531.65,271.45 L532.18,271.78 L532.72,285.27 L533.26,294.74 L533.79,288.16 L534.33,273.96 L534.86,270.19 L535.40,281.60 L535.94,293.64 L536.47,291.01 L537.01,277.11 L537.55,269.62 L538.08,278.04 L538.62,291.61 L539.16,293.08 L539.69,280.62 L540.23,270.10 L540.76,274.88 L541.30,288.83 L541.84,294.20 L542.37,284.20 L542.91,271.58 L543.45,272.38 L543.98,285.53 L544.52,294.29 L545.06,287.55 L545.59,273.92 L546.13,270.73 L546.67,282.00 L547.20,293.35 L547.74,290.38 L548.27,276.90 L548.81,270.07 L549.35,278.53 L549.88,291.49 L550.42,292.47 L550.96,280.27 L551.49,270.43 L552.03,275.43 L552.57,288.87 L553.10,293.65 L553.64,283.73 L554.17,271.76 L554.71,272.93 L555.25,285.72 L555.78,293.85 L556.32,287.00 L556.86,273.93 L557.39,271.25 L557.93,282.32 L558.47,293.04 L559.00,289.80 L559.54,276.76 L560.08,270.51 L560.61,278.96 L561.15,291.33 L561.68,291.90 L562.22,279.98 L562.76,270.75 L563.29,275.92 L563.83,288.88 L564.37,293.16 L564.90,283.35 L565.44,271.94 L565.98,273.44 L566.51,285.89 L567.05,293.47 L567.58,286.56 L568.12,273.98 L568.66,271.72 L569.19,282.63 L569.73,292.81 L570.27,289.34 L570.80,276.67 L571.34,270.91 L571.88,279.36 L572.41,291.25 L572.95,291.48 L573.49,279.79 L574.02,271.05 L574.56,276.36 L575.09,288.94 L575.63,292.79 L576.17,283.06 L576.70,272.14 L577.24,273.90 L577.78,286.07 L578.31,293.17 L578.85,286.20 L579.39,274.05 L579.92,272.16 L580.46,282.91 L580.99,292.61 L581.53,288.96 L582.07,276.62 L582.60,271.29 L583.14,279.72 L583.68,291.16 L584.21,291.09 L584.75,279.63 L585.29,271.36 L585.82,276.78 L586.36,288.96 L586.90,292.44 L587.43,282.81 L587.97,272.34 L588.50,274.33 L589.04,286.21 L589.58,292.88 L590.11,285.89 L590.65,274.15 L591.19,272.58 L591.72,283.15 L592.26,292.40 L592.80,288.60 L593.33,276.61 L593.87,271.67 L594.40,280.04 L594.94,291.06 L595.48,290.73 L596.01,279.51 L596.55,271.67 L597.09,277.15 L597.62,288.96 L598.16,292.10 L598.70,282.60 L599.23,272.56 L599.77,274.73 L600.31,286.32 L600.84,292.59 L601.38,285.61 L601.91,274.27 L602.45,272.98 L602.99,283.35 L603.52,292.19 L604.06,288.28 L604.60,276.62 L605.13,272.04 L605.67,280.33 L606.21,290.93 L606.74,290.39 L607.28,279.41 L607.81,271.96 L608.35,277.48 L608.89,288.93 L609.42,291.76 L609.96,282.40 L610.50,272.76 L611.03,275.07 L611.57,286.38 L612.11,292.30 L612.64,285.33 L613.18,274.35 L613.72,273.30 L614.25,283.49 L614.79,291.95 L615.32,287.95 L615.86,276.60 L616.40,272.32 L616.93,280.52 L617.47,290.77 L618.01,290.04 L618.54,279.29 L619.08,272.19 L619.62,277.73 L620.15,288.86 L620.69,291.43 L621.22,282.20 L621.76,272.91 L622.30,275.36 L622.83,286.39 L623.37,291.99 L623.91,285.06 L624.44,274.43 L624.98,273.59 L625.52,283.59 L626.05,291.71 L626.59,287.64 L627.13,276.58 L627.66,272.58 L628.20,280.70 L628.73,290.60 L629.27,289.71 L629.81,279.19 L630.34,272.41 L630.88,277.96 L631.42,288.77 L631.95,291.10 L632.49,282.02 L633.03,273.08 L633.56,275.62 L634.10,286.39 L634.63,291.70 L635.17,284.82 L635.71,274.51 L636.24,273.86 L636.78,283.67 L637.32,291.46 L637.85,287.35 L638.39,276.59 L638.93,272.84 L639.46,280.85 L640.00,290.41 L640.54,289.40 L641.07,279.11 L641.61,272.63 L642.14,278.17 L642.68,288.66 L643.22,290.79 L643.75,281.86 L644.29,273.24 L644.83,275.86 L645.36,286.37 L645.90,291.41 L646.44,284.60 L646.97,274.61 L647.51,274.12 L648.04,283.73 L648.58,291.21 L649.12,287.08 L649.65,276.60 L650.19,273.09 L650.73,280.98 L651.26,290.23 L651.80,289.10 L652.34,279.05 L652.87,272.85 L653.41,278.36 L653.95,288.55 L654.48,290.48 L655.02,281.72 L655.55,273.41 L656.09,276.09 L656.63,286.33 L657.16,291.12 L657.70,284.39 L658.24,274.71 L658.77,274.37 L659.31,283.77 L659.85,290.96 L660.38,286.83 L660.92,276.63 L661.45,273.33 L661.99,281.09 L662.53,290.03 L663.06,288.82 L663.60,279.00 L664.14,273.07 L664.67,278.53 L665.21,288.42 L665.75,290.19 L666.28,281.60 L666.82,273.58 L667.36,276.30 L667.89,286.28 L668.43,290.84 L668.96,284.21 L669.50,274.82 L670.04,274.60 L670.57,283.79 L671.11,290.72"/>
<path d="M48.90,460.90 L48.94,460.85 L48.97,460.81 L49.01,460.79 L49.05,460.77 L49.08,460.77 L49.12,460.78 L49.15,460.80 L49.19,460.85 L49.23,460.91 L49.26,460.99 L49.30,461.09 L49.34,461.21 L49.37,461.35 L49.41,461.52 L49.45,461.71 L49.48,461.93 L49.52,462.18 L49.55,462.45 L49.59,462.75 L49.63,463.09 L49.66,463.45 L49.70,463.85 L49.74,464.29 L49.77,464.75 L49.81,465.26 L49.84,465.80 L49.88,466.38 L49.92,467.00 L49.95,467.63 L49.99,468.27 L50.03,468.92 L50.06,469.58 L50.10,470.25 L50.14,470.92 L50.17,471.61 L50.21,472.30 L50.24,473.00 L50.28,473.71 L50.32,474.43 L50.35,475.15 L50.39,475.88 L50.43,476.62 L50.46,477.36 L50.50,478.12 L50.54,478.88 L50.57,479.64 L50.61,480.42 L50.64,481.20 L50.68,481.99 L50.72,482.78 L50.75,483.58 L50.79,484.38 L50.83,485.19 L50.86,486.01 L50.90,486.83 L50.94,487.66 L50.97,488.49 L51.01,489.34 L51.04,490.20 L51.08,491.07 L51.12,491.94 L51.15,492.83 L51.19,493.73 L51.23,494.63 L51.26,495.54 L51.30,496.46 L51.33,497.38 L51.37,498.30 L51.41,499.23 L51.44,500.16 L51.48,501.09 L51.52,502.02 L51.55,502.95 L51.59,503.87 L51.63,504.80 L51.66,505.72 L51.70,506.64 L51.73,507.55 L51.77,508.46 L51.81,509.36 L51.84,510.25 L51.88,511.13 L51.92,512.01 L51.95,512.87 L51.99,513.72 L52.03,514.56 L52.06,515.39 L52.10,516.20 L52.13,517.00 L52.17,517.78 L52.21,518.55 L52.24,519.30 L52.28,520.04 L52.32,520.76 L52.35,521.48 L52.39,522.18 L52.43,522.87 L52.46,523.55 L52.50,524.22 L52.53,524.88 L52.57,525.53 L52.61,526.17 L52.64,526.80 L52.68,527.42 L52.72,528.03 L52.75,528.64 L52.79,529.23 L52.82,529.82 L52.86,530.39 L52.90,530.96 L52.93,531.52 L52.97,532.08 L53.01,532.63 L53.04,533.17 L53.08,533.70 L53.12,534.23 L53.15,534.76 L53.19,535.28 L53.22,535.79 L53.26,536.30 L53.30,536.80 L53.33,537.30 L53.37,537.79 L53.41,538.28 L53.44,538.77 L53.48,539.26 L53.52,539.74 L53.55,540.22 L53.59,540.70 L53.62,541.18 L53.66,541.65 L53.70,542.12 L53.73,542.58 L53.77,543.04 L53.81,543.50 L53.84,543.95 L53.88,544.40 L53.92,544.84 L53.95,545.28 L53.99,545.72 L54.02,546.15 L54.06,546.57 L54.10,546.99 L54.13,547.40 L54.17,547.81 L54.21,548.21 L54.24,548.61 L54.28,549.00 L54.31,549.38 L54.35,549.76 L54.39,550.13 L54.42,550.49 L54.46,550.84 L54.50,551.19 L54.53,551.53 L54.57,551.87 L54.61,552.19 L54.64,552.51 L54.68,552.82 L54.71,553.12 L54.75,553.41 L54.79,553.69 L54.82,553.97 L54.86,554.25 L54.90,554.52 L54.93,554.79 L54.97,555.06 L55.01,555.32 L55.04,555.57 L55.08,555.82 L55.11,556.07 L55.15,556.31 L55.19,556.55 L55.22,556.78 L55.26,557.00 L55.30,557.22 L55.33,557.44 L55.37,557.65 L55.41,557.85 L55.44,558.05 L55.48,558.24 L55.51,558.43 L55.55,558.61 L55.59,558.79 L55.62,558.95 L55.66,559.11 L55.70,559.27 L55.73,559.42 L55.77,559.56 L55.80,559.70 L55.84,559.82 L55.88,559.94 L55.91,560.06 L55.95,560.17 L55.99,560.26 L56.02,560.36 L56.06,560.45 L56.10,560.54 L56.13,560.63 L56.17,560.73 L56.20,560.82 L56.24,560.91 L56.28,560.99 L56.31,561.08 L56.35,561.17 L56.39,561.26 L56.42,561.34 L56.46,561.42 L56.50,561.51 L56.53,561.59 L56.57,561.67 L56.60,561.75 L56.64,561.82 L56.68,561.90 L56.71,561.97 L56.75,562.04 L56.79,562.11 L56.82,562.18 L56.86,562.25 L56.89,562.31 L56.93,562.37 L56.97,562.43 L57.00,562.49 L57.04,562.54 L57.08,562.60 L57.11,562.65 L57.15,562.69 L57.19,562.74 L57.22,562.78 L57.26,562.82 L57.29,562.85 L57.33,562.89 L57.37,562.92 L57.40,562.94 L57.44,562.97 L57.48,562.99 L57.51,563.01 L57.55,563.02 L57.59,563.04 L57.62,563.06 L57.66,563.07 L57.69,563.09 L57.73,563.11 L57.77,563.12 L57.80,563.14 L57.84,563.16 L57.88,563.18 L57.91,563.19 L57.95,563.21 L57.99,563.23 L58.02,563.24 L58.06,563.26 L58.09,563.27 L58.13,563.29 L58.17,563.30 L58.20,563.32 L58.24,563.33 L58.28,563.35 L58.31,563.36 L58.35,563.37 L58.38,563.39 L58.42,563.40 L58.46,563.41 L58.49,563.42 L58.53,563.43 L58.57,563.44 L58.60,563.45 L58.64,563.46 L58.68,563.47 L58.71,563.47 L58.75,563.48 L58.78,563.48 L58.82,563.49 L58.86,563.49 L58.89,563.50 L58.93,563.50 L58.97,563.50 L59.00,563.50 L59.04,563.50 L59.08,563.50 L59.11,563.50 L59.15,563.50 L59.18,563.50 L59.22,563.50 L59.26,563.50 L59.29,563.50 L59.33,563.50 L59.37,563.50 L59.40,563.50 L59.44,563.50 L59.48,563.50 L59.51,563.50 L59.55,563.50 L59.58,563.50 L59.62,563.50 L59.66,563.50 L59.69,563.50 L59.73,563.50 L59.77,563.50 L59.80,563.50 L59.84,563.50 L59.87,563.50 L59.91,563.50 L59.95,563.50 L59.98,563.50 L60.02,563.50 L60.06,563.50 L60.09,563.50 L60.13,563.50 L60.17,563.50 L60.20,563.50 L60.24,563.50 L60.27,563.50 L60.31,563.50 L60.35,563.50 L60.38,563.50 L60.42,563.50 L60.46,563.50 L60.49,563.50 L60.53,563.50 L60.57,563.50 L60.60,563.50 L60.64,563.50 L60.67,563.50 L60.71,563.50 L60.75,563.50 L60.78,563.50 L60.82,563.50 L60.86,563.50 L60.89,563.50 L60.93,563.50 L60.97,563.50 L61.00,563.50 L61.04,563.50 L61.07,563.50 L61.11,563.50 L61.15,563.50 L61.18,563.50 L61.22,563.50 L61.26,563.50 L61.29,563.50 L61.33,563.50 L61.36,563.50 L61.40,563.50 L61.44,563.50 L61.47,563.50 L61.51,563.50 L61.55,563.50 L61.58,563.50 L61.62,563.50 L61.66,563.50 L61.69,563.50 L61.73,563.50 L61.76,563.50 L61.80,563.49 L61.84,563.49 L61.87,563.49 L61.91,563.49 L61.95,563.49 L61.98,563.49 L62.02,563.49 L62.06,563.49 L62.09,563.49 L62.13,563.49 L62.16,563.49 L62.20,563.49 L62.24,563.48 L62.27,563.48 L62.31,563.48 L62.35,563.48 L62.38,563.48 L62.42,563.48 L62.46,563.48 L62.49,563.48 L62.53,563.48 L62.56,563.47 L62.60,563.47 L62.64,563.47 L62.67,563.47 L62.71,563.47 L62.75,563.47 L62.78,563.46 L62.82,563.46 L62.85,563.46 L62.89,563.46 L62.93,563.46 L62.96,563.46 L63.00,563.45 L63.04,563.45 L63.07,563.45 L63.11,563.45 L63.15,563.45 L63.18,563.44 L63.22,563.44 L63.25,563.44 L63.29,563.44 L63.33,563.43 L63.36,563.43 L63.40,563.43 L63.72,563.41 L64.04,563.39 L64.35,563.36 L64.67,563.34 L64.99,563.32 L65.31,563.30 L65.62,563.28 L65.94,563.25 L66.26,563.23 L66.58,563.21 L66.90,563.18 L67.21,563.16 L67.53,563.13 L67.85,563.11 L68.17,563.08 L68.48,563.05 L68.80,563.03 L69.12,563.00 L69.44,562.97 L69.76,562.95 L70.07,562.92 L70.39,562.89 L70.71,562.86 L71.03,562.84 L71.34,562.81 L71.66,562.78 L71.98,562.75 L72.30,562.72 L72.62,562.69 L72.93,562.66 L73.25,562.63 L73.57,562.60 L73.89,562.57 L74.20,562.54 L74.52,562.51 L74.84,562.48 L75.16,562.45 L75.48,562.42 L75.79,562.38 L76.11,562.35 L76.43,562.32 L76.75,562.29 L77.06,562.26 L77.38,562.22 L77.70,562.19 L78.02,562.16 L78.34,562.13 L78.65,562.10 L78.97,562.06 L79.29,562.03 L79.61,562.00 L79.92,561.97 L80.24,561.93 L80.56,561.90 L80.88,561.87 L81.20,561.84 L81.51,561.80 L81.83,561.77 L82.15,561.74 L82.47,561.71 L82.78,561.67 L83.10,561.64 L83.42,561.61 L83.74,561.58 L84.06,561.54 L84.37,561.51 L84.69,561.48 L85.01,561.45 L85.33,561.42 L85.64,561.38 L85.96,561.35 L86.28,561.32 L86.60,561.29 L86.92,561.26 L87.23,561.22 L87.55,561.19 L87.87,561.16 L88.19,561.13 L88.50,561.10 L88.82,561.07 L89.14,561.03 L89.46,561.00 L89.78,560.97 L90.09,560.94 L90.41,560.91 L90.73,560.88 L91.05,560.85 L91.36,560.82 L91.68,560.79 L92.00,560.75 L92.32,560.72 L92.64,560.69 L92.95,560.66 L93.27,560.63 L93.59,560.60 L93.91,560.57 L94.22,560.54 L94.54,560.51 L94.86,560.48 L95.18,560.45 L95.49,560.42 L95.81,560.39 L96.13,560.36 L96.45,560.33 L96.77,560.30 L97.08,560.27 L97.40,560.24 L97.72,560.21 L98.04,560.18 L98.35,560.15 L98.67,560.12 L98.99,560.09 L99.31,560.06 L99.63,560.03 L99.94,560.00 L100.26,559.97 L100.58,559.94 L100.90,559.91 L101.21,559.88 L101.53,559.85 L101.85,559.82 L102.17,559.79 L102.49,559.76 L102.80,559.73 L103.12,559.70 L103.44,559.67 L103.76,559.64 L104.07,559.62 L104.39,559.59 L104.71,559.56 L105.03,559.53 L105.35,559.50 L105.66,559.47 L105.98,559.44 L106.30,559.41 L106.62,559.38 L106.93,559.35 L107.25,559.33 L107.57,559.30 L107.89,559.27 L108.21,559.24 L108.52,559.21 L108.84,559.18 L109.16,559.15 L109.48,559.13 L109.79,559.10 L110.11,559.07 L110.43,559.04 L110.75,559.01 L111.07,558.98 L111.38,558.95 L111.70,558.93 L112.02,558.90 L112.34,558.87 L112.65,558.84 L112.97,558.81 L113.29,558.79 L113.61,558.76 L113.93,558.73 L114.24,558.70 L114.56,558.67 L114.88,558.65 L115.20,558.62 L115.51,558.59 L115.83,558.56 L116.15,558.53 L116.47,558.51 L116.79,558.48 L117.10,558.45 L117.42,558.42 L117.74,558.39 L118.06,558.37 L118.37,558.34 L118.69,558.31 L119.01,558.28 L119.33,558.26 L119.65,558.23 L119.96,558.20 L120.28,558.17 L120.60,558.15 L120.92,558.12 L121.23,558.09 L121.55,558.06 L121.87,558.04 L122.19,558.01 L122.51,557.98 L122.82,557.95 L123.14,557.93 L123.46,557.90 L123.78,557.87 L124.09,557.84 L124.41,557.82 L124.73,557.79 L125.05,557.76 L125.37,557.74 L125.68,557.71 L126.00,557.68 L126.32,557.65 L126.64,557.63 L126.95,557.60 L127.27,557.57 L127.59,557.55 L127.91,557.52 L128.23,557.49 L128.54,557.46 L128.86,557.44 L129.18,557.41 L129.50,557.38 L129.81,557.36 L130.13,557.33 L130.45,557.30 L130.77,557.28 L131.09,557.25 L131.40,557.22 L131.72,557.20 L132.04,557.17 L132.36,557.14 L132.67,557.12 L132.99,557.09 L133.31,557.06 L133.63,557.04 L133.95,557.01 L134.26,556.98 L134.58,556.96 L134.90,556.93 L135.22,556.90 L135.53,556.88 L135.85,556.85 L136.17,556.83 L136.49,556.80 L136.81,556.77 L137.12,556.75 L137.44,556.72 L137.76,556.70 L138.08,556.67 L138.39,556.64 L138.71,556.62 L139.03,556.59 L139.35,556.57 L139.67,556.54 L139.98,556.52 L140.30,556.49 L140.62,556.47 L140.94,556.44 L141.25,556.42 L141.57,556.39 L141.89,556.37 L142.21,556.34 L142.53,556.32 L142.84,556.29 L143.16,556.27 L143.48,556.24 L143.80,556.22 L144.11,556.19 L144.43,556.17 L144.75,556.14 L145.07,556.12 L145.39,556.10 L145.70,556.07 L146.02,556.05 L146.34,556.02 L146.66,556.00 L146.97,555.98 L147.29,555.95 L147.61,555.93 L147.93,555.91 L148.25,555.88 L148.56,555.86 L148.88,555.84 L149.20,555.82 L149.52,555.79 L149.83,555.77 L150.15,555.75 L150.47,555.73 L150.79,555.70 L151.11,555.68 L151.42,555.66 L151.74,555.64 L152.06,555.62 L152.38,555.60 L152.69,555.57 L153.01,555.55 L153.33,555.53 L153.65,555.51 L153.97,555.49 L154.28,555.47 L154.60,555.45 L154.92,555.43 L155.24,555.41 L155.55,555.39 L155.87,555.37 L156.19,555.35 L156.51,555.33 L156.83,555.31 L157.14,555.29 L157.46,555.27 L157.78,555.25 L158.10,555.23 L158.41,555.21 L158.73,555.19 L159.05,555.17 L159.37,555.16 L159.68,555.14 L160.00,555.12 L160.32,555.10 L160.64,555.08 L160.96,555.07 L161.27,555.05 L161.59,555.03 L161.91,555.01 L162.23,555.00 L162.54,554.98 L162.86,554.96 L163.18,554.95 L163.50,554.93 L163.82,554.92 L164.13,554.90 L164.45,554.88 L164.77,554.87 L165.09,554.85 L165.40,554.84 L165.72,554.82 L166.04,554.81 L166.36,554.79 L166.68,554.78 L166.99,554.77 L167.31,554.75 L167.63,554.74 L167.95,554.72 L168.26,554.71 L168.58,554.70 L168.90,554.68 L169.22,554.67 L169.54,554.66 L169.85,554.65 L170.17,554.63 L170.49,554.62 L170.81,554.61 L171.12,554.60 L171.44,554.59 L171.76,554.58 L172.08,554.57 L172.40,554.55 L172.71,554.54 L173.03,554.53 L173.35,554.52 L173.67,554.51 L173.98,554.50 L174.30,554.50 L174.62,554.49 L174.94,554.48 L175.26,554.47 L175.57,554.46 L175.89,554.45 L176.21,554.44 L176.53,554.44 L176.84,554.43 L177.16,554.42 L177.48,554.41 L177.80,554.41 L178.12,554.40 L178.43,554.39 L178.75,554.39 L179.07,554.38 L179.39,554.38 L179.70,554.37 L180.02,554.37 L180.34,554.36 L180.66,554.36 L180.98,554.35 L181.29,554.35 L181.61,554.34 L181.93,554.34 L182.25,554.34 L182.56,554.33 L182.88,554.33 L183.20,554.33 L183.52,554.33 L183.84,554.33 L184.15,554.32 L184.47,554.32 L184.79,554.32 L185.11,554.32 L185.42,554.32 L185.74,554.32 L186.06,554.32 L186.38,554.32 L186.70,554.32 L187.01,554.32 L187.33,554.32 L187.65,554.32 L187.97,554.32 L188.28,554.33 L188.60,554.33 L188.92,554.33 L189.24,554.33 L189.56,554.34 L189.87,554.34 L190.19,554.34 L190.51,554.35 L190.83,554.35 L191.14,554.36 L191.46,554.36 L191.78,554.37 L192.10,554.37 L192.42,554.38 L192.73,554.38 L193.05,554.39 L193.37,554.40 L193.69,554.40 L194.00,554.41 L194.32,554.42 L194.64,554.43 L194.96,554.43 L195.28,554.44 L195.59,554.45 L195.91,554.46 L196.23,554.47 L196.55,554.48 L196.86,554.49 L197.18,554.49 L197.50,554.50 L197.82,554.51 L198.14,554.52 L198.45,554.53 L198.77,554.55 L199.09,554.56 L199.41,554.57 L199.72,554.58 L200.04,554.59 L200.36,554.60 L200.68,554.61 L201.00,554.63 L201.31,554.64 L201.63,554.65 L201.95,554.66 L202.27,554.67 L202.58,554.69 L202.90,554.70 L203.22,554.71 L203.54,554.73 L203.86,554.74 L204.17,554.76 L204.49,554.77 L204.81,554.78 L205.13,554.80 L205.44,554.81 L205.76,554.83 L206.08,554.84 L206.40,554.86 L206.72,554.87 L207.03,554.89 L207.35,554.90 L207.67,554.92 L207.99,554.93 L208.30,554.95 L208.62,554.96 L208.94,554.98 L209.26,554.99 L209.58,555.01 L209.89,555.03 L210.21,555.04 L210.53,555.06 L210.85,555.08 L211.16,555.09 L211.48,555.11 L211.80,555.13 L212.12,555.14 L212.44,555.16 L212.75,555.18 L213.07,555.19 L213.39,555.21 L213.71,555.23 L214.02,555.25 L214.34,555.26 L214.66,555.28 L214.98,555.30 L215.30,555.31 L215.61,555.33 L215.93,555.35 L216.25,555.37 L216.57,555.39 L216.88,555.40 L217.20,555.42 L217.52,555.44 L217.84,555.46 L218.16,555.47 L218.47,555.49 L218.79,555.51 L219.11,555.53 L219.43,555.55 L219.74,555.56 L220.06,555.58 L220.38,555.60 L220.70,555.62 L221.02,555.63 L221.33,555.65 L221.65,555.67 L221.97,555.69 L222.29,555.71 L222.60,555.72 L222.92,555.74 L223.24,555.76 L223.56,555.78 L223.87,555.80 L224.19,555.81 L224.51,555.83 L224.83,555.85 L225.15,555.87 L225.46,555.88 L225.78,555.90 L226.10,555.92 L226.42,555.94 L226.73,555.95 L227.05,555.97 L227.37,555.99 L227.69,556.01 L228.01,556.02 L228.32,556.04 L228.64,556.06 L228.96,556.07 L229.28,556.09 L229.59,556.11 L229.91,556.13 L230.23,556.14 L230.55,556.16 L230.87,556.18 L231.18,556.19 L231.50,556.21 L231.82,556.23 L232.14,556.24 L232.45,556.26 L232.77,556.28 L233.09,556.29 L233.41,556.31 L233.73,556.32 L234.04,556.34 L234.36,556.36 L234.68,556.37 L235.00,556.39 L235.31,556.40 L235.63,556.42 L235.95,556.44 L236.27,556.45 L236.59,556.47 L236.90,556.48 L237.22,556.50 L237.54,556.51 L237.86,556.53 L238.17,556.54 L238.49,556.56 L238.81,556.57 L239.13,556.59 L239.45,556.60 L239.76,556.62 L240.08,556.63 L240.40,556.65 L240.72,556.66 L241.03,556.68 L241.35,556.69 L241.67,556.71 L241.99,556.72 L242.31,556.73 L242.62,556.75 L242.94,556.76 L243.26,556.78 L243.58,556.79 L243.89,556.80 L244.21,556.82 L244.53,556.83 L244.85,556.84 L245.17,556.86 L245.48,556.87 L245.80,556.88 L246.12,556.89 L246.44,556.91 L246.75,556.92 L247.07,556.93 L247.39,556.94 L247.71,556.96 L248.03,556.97 L248.34,556.98 L248.66,556.99 L248.98,557.00 L249.30,557.02 L249.61,557.03 L249.93,557.04 L250.25,557.05 L250.57,557.06 L250.89,557.07 L251.20,557.08 L251.52,557.09 L251.84,557.10 L252.16,557.11 L252.47,557.12 L252.79,557.13 L253.11,557.14 L253.43,557.15 L253.75,557.16 L254.06,557.17 L254.38,557.18 L254.70,557.19 L255.02,557.20 L255.33,557.21 L255.65,557.22 L255.97,557.23 L256.29,557.24 L256.61,557.25 L256.92,557.25 L257.24,557.26 L257.56,557.27 L257.88,557.28 L258.19,557.29 L258.51,557.29 L258.83,557.30 L259.15,557.31 L259.47,557.31 L259.78,557.32 L260.10,557.33 L260.42,557.34 L260.74,557.34 L261.05,557.35 L261.37,557.35 L261.69,557.36 L262.01,557.37 L262.33,557.37 L262.64,557.38 L262.96,557.38 L263.28,557.39 L263.60,557.39 L263.91,557.40 L264.23,557.40 L264.55,557.41 L264.87,557.41 L265.19,557.41 L265.50,557.42 L265.82,557.42 L266.14,557.43 L266.46,557.43 L266.77,557.43 L267.09,557.43 L267.41,557.44 L267.73,557.44 L268.05,557.44 L268.36,557.44 L268.68,557.45 L269.00,557.45 L269.32,557.45 L269.63,557.45 L269.95,557.45 L270.27,557.45 L270.59,557.45 L270.91,557.46 L271.22,557.46 L271.54,557.46 L271.86,557.46 L272.18,557.46 L272.49,557.46 L272.81,557.46 L273.13,557.46 L273.45,557.46 L273.77,557.45 L274.08,557.45 L274.40,557.45 L274.72,557.45 L275.04,557.45 L275.35,557.45 L275.67,557.45 L275.99,557.44 L276.31,557.44 L276.63,557.44 L276.94,557.44 L277.26,557.43 L277.58,557.43 L277.90,557.43 L278.21,557.42 L278.53,557.42 L278.85,557.42 L279.17,557.41 L279.49,557.41 L279.80,557.41 L280.12,557.40 L280.44,557.40 L280.76,557.39 L281.07,557.39 L281.39,557.38 L281.71,557.38 L282.03,557.37 L282.35,557.37 L282.66,557.36 L282.98,557.36 L283.30,557.35 L283.62,557.34 L283.93,557.34 L284.25,557.33 L284.57,557.33 L284.89,557.32 L285.21,557.31 L285.52,557.31 L285.84,557.30 L286.16,557.29 L286.48,557.28 L286.79,557.28 L287.11,557.27 L287.43,557.26 L287.75,557.25 L288.06,557.25 L288.38,557.24 L288.70,557.23 L289.02,557.22 L289.34,557.21 L289.65,557.20 L289.97,557.20 L290.29,557.19 L290.61,557.18 L290.92,557.17 L291.24,557.16 L291.56,557.15 L291.88,557.14 L292.20,557.13 L292.51,557.12 L292.83,557.11 L293.15,557.10 L293.47,557.09 L293.78,557.08 L294.10,557.07 L294.42,557.06 L294.74,557.05 L295.06,557.04 L295.37,557.02 L295.69,557.01 L296.01,557.00 L296.33,556.99 L296.64,556.98 L296.96,556.97 L297.28,556.96 L297.60,556.94 L297.92,556.93 L298.23,556.92 L298.55,556.91 L298.87,556.90 L299.19,556.88 L299.50,556.87 L299.82,556.86 L300.14,556.84 L300.46,556.83 L300.78,556.82 L301.09,556.80 L301.41,556.79 L301.73,556.78 L302.05,556.76 L302.36,556.75 L302.68,556.74 L303.00,556.72 L303.32,556.71 L303.64,556.70 L303.95,556.68 L304.27,556.67 L304.59,556.65 L304.91,556.64 L305.22,556.62 L305.54,556.61 L305.86,556.59 L306.18,556.58 L306.50,556.56 L306.81,556.55 L307.13,556.53 L307.45,556.52 L307.77,556.50 L308.08,556.49 L308.40,556.47 L308.72,556.46 L309.04,556.44 L309.36,556.42 L309.67,556.41 L309.99,556.39 L310.31,556.38 L310.63,556.36 L310.94,556.34 L311.26,556.33 L311.58,556.31 L311.90,556.29 L312.22,556.28 L312.53,556.26 L312.85,556.24 L313.17,556.23 L313.49,556.21 L313.80,556.19 L314.12,556.18 L314.44,556.16 L314.76,556.14 L315.08,556.12 L315.39,556.11 L315.71,556.09 L316.03,556.07 L316.35,556.05 L316.66,556.04 L316.98,556.02 L317.30,556.00"/>
<path d="M402.91,461.34 L403.45,488.10 L403.98,532.88 L404.52,537.44 L405.06,496.37 L405.59,463.23 L406.13,480.57 L406.66,525.23 L407.20,539.17 L407.74,504.77 L408.27,466.88 L408.81,474.23 L409.35,516.64 L409.88,539.00 L410.42,512.80 L410.96,472.43 L411.49,469.89 L412.03,507.78 L412.57,536.85 L413.10,520.02 L413.64,479.64 L414.17,467.79 L414.71,499.13 L415.25,532.83 L415.78,525.75 L416.32,487.65 L416.86,467.76 L417.39,491.17 L417.93,527.26 L418.47,529.72 L419.00,495.99 L419.54,469.72 L420.07,484.32 L420.61,520.49 L421.15,531.70 L421.68,504.03 L422.22,473.38 L422.76,478.89 L423.29,512.93 L423.83,531.64 L424.37,511.38 L424.90,478.59 L425.44,475.24 L425.98,505.12 L426.51,529.61 L427.05,517.60 L427.58,484.93 L428.12,473.54 L428.66,497.56 L429.19,525.85 L429.73,522.31 L430.27,491.92 L430.80,473.79 L431.34,490.74 L431.88,520.62 L432.41,525.19 L432.95,499.03 L433.48,475.85 L434.02,485.09 L434.56,514.54 L435.09,526.46 L435.63,505.90 L436.17,479.47 L436.70,480.87 L437.24,507.95 L437.78,525.90 L438.31,512.01 L438.85,484.38 L439.39,478.33 L439.92,501.27 L440.46,523.63 L440.99,516.99 L441.53,490.19 L442.07,477.56 L442.60,494.97 L443.14,519.87 L443.68,520.55 L444.21,496.45 L444.75,478.53 L445.29,489.52 L445.82,515.12 L446.36,522.62 L446.89,502.73 L447.43,481.09 L447.97,485.24 L448.50,509.61 L449.04,523.01 L449.58,508.56 L450.11,484.98 L450.65,482.36 L451.19,503.80 L451.72,521.78 L452.26,513.53 L452.80,489.86 L453.33,481.05 L453.87,498.12 L454.40,519.10 L454.94,517.34 L455.48,495.29 L456.01,481.19 L456.55,492.91 L457.09,515.30 L457.62,519.80 L458.16,500.86 L458.70,482.77 L459.23,488.51 L459.77,510.55 L460.30,520.72 L460.84,506.20 L461.38,485.69 L461.91,485.29 L462.45,505.32 L462.99,520.12 L463.52,510.94 L464.06,489.67 L464.60,483.44 L465.13,500.01 L465.67,518.11 L466.21,514.73 L466.74,494.36 L467.28,483.05 L467.81,495.05 L468.35,514.90 L468.89,517.31 L469.42,499.38 L469.96,484.08 L470.50,490.80 L471.03,510.79 L471.57,518.53 L472.11,504.32 L472.64,486.40 L473.18,487.56 L473.71,506.12 L474.25,518.36 L474.79,508.80 L475.32,489.78 L475.86,485.53 L476.40,501.30 L476.93,516.92 L477.47,512.54 L478.01,493.82 L478.54,484.65 L479.08,496.63 L479.62,514.40 L480.15,515.34 L480.69,498.33 L481.22,485.10 L481.76,492.44 L482.30,510.92 L482.83,516.97 L483.37,502.96 L483.91,486.82 L484.44,489.06 L484.98,506.75 L485.52,517.30 L486.05,507.34 L486.59,489.64 L487.12,486.73 L487.66,502.24 L488.20,516.34 L488.73,511.12 L489.27,493.31 L489.81,485.62 L490.34,497.75 L490.88,514.19 L491.42,514.01 L491.95,497.53 L492.49,485.77 L493.03,493.66 L493.56,511.05 L494.10,515.80 L494.63,501.93 L495.17,487.17 L495.71,490.27 L496.24,507.20 L496.78,516.36 L497.32,506.16 L497.85,489.66 L498.39,487.85 L498.93,502.95 L499.46,515.69 L500.00,509.88 L500.53,493.01 L501.07,486.56 L501.61,498.67 L502.14,513.85 L502.68,512.80 L503.22,496.94 L503.75,486.49 L504.29,494.69 L504.83,511.02 L505.36,514.70 L505.90,501.11 L506.44,487.61 L506.97,491.34 L507.51,507.48 L508.04,515.45 L508.58,505.18 L509.12,489.80 L509.65,488.87 L510.19,503.50 L510.73,515.02 L511.26,508.82 L511.80,492.87 L512.34,487.47 L512.87,499.43 L513.41,513.46 L513.94,511.74 L514.48,496.53 L515.02,487.21 L515.55,495.59 L516.09,510.93 L516.63,513.72 L517.16,500.48 L517.70,488.11 L518.24,492.30 L518.77,507.66 L519.31,514.61 L519.85,504.38 L520.38,490.02 L520.92,489.79 L521.45,503.92 L521.99,514.41 L522.53,507.93 L523.06,492.79 L523.60,488.24 L524.14,500.02 L524.67,513.10 L525.21,510.85 L525.75,496.18 L526.28,487.77 L526.82,496.28 L527.35,510.82 L527.89,512.91 L528.43,499.93 L528.96,488.42 L529.50,493.00 L530.04,507.78 L530.57,513.94 L531.11,503.70 L531.65,490.11 L532.18,490.44 L532.72,504.22 L533.26,513.89 L533.79,507.17 L534.33,492.67 L534.86,488.82 L535.40,500.47 L535.94,512.76 L536.47,510.08 L537.01,495.88 L537.55,488.24 L538.08,496.83 L538.62,510.69 L539.16,512.19 L539.69,499.47 L540.23,488.73 L540.76,493.61 L541.30,507.86 L541.84,513.34 L542.37,503.13 L542.91,490.24 L543.45,491.06 L543.98,504.49 L544.52,513.44 L545.06,506.56 L545.59,492.63 L546.13,489.37 L546.67,500.89 L547.20,512.50 L547.74,509.46 L548.27,495.68 L548.81,488.70 L549.35,497.35 L549.88,510.61 L550.42,511.61 L550.96,499.13 L551.49,489.06 L552.03,494.18 L552.57,507.93 L553.10,512.83 L553.64,502.68 L554.17,490.42 L554.71,491.63 L555.25,504.72 L555.78,513.04 L556.32,506.03 L556.86,492.65 L557.39,489.91 L557.93,501.25 L558.47,512.23 L559.00,508.91 L559.54,495.55 L560.08,489.15 L560.61,497.81 L561.15,510.48 L561.68,511.06 L562.22,498.86 L562.76,489.40 L563.29,494.69 L563.83,507.97 L564.37,512.35 L564.90,502.30 L565.44,490.63 L565.98,492.15 L566.51,504.91 L567.05,512.66 L567.58,505.58 L568.12,492.71 L568.66,490.41 L569.19,501.56 L569.73,511.98 L570.27,508.43 L570.80,495.47 L571.34,489.58 L571.88,498.22 L572.41,510.37 L572.95,510.60 L573.49,498.66 L574.02,489.74 L574.56,495.16 L575.09,508.00 L575.63,511.93 L576.17,502.00 L576.70,490.85 L577.24,492.65 L577.78,505.07 L578.31,512.32 L578.85,505.20 L579.39,492.81 L579.92,490.88 L580.46,501.84 L580.99,511.73 L581.53,508.01 L582.07,495.43 L582.60,490.00 L583.14,498.59 L583.68,510.25 L584.21,510.18 L584.75,498.50 L585.29,490.08 L585.82,495.59 L586.36,508.00 L586.90,511.53 L587.43,501.73 L587.97,491.08 L588.50,493.11 L589.04,505.20 L589.58,511.98 L590.11,504.86 L590.65,492.92 L591.19,491.33 L591.72,502.08 L592.26,511.48 L592.80,507.62 L593.33,495.43 L593.87,490.41 L594.40,498.92 L594.94,510.11 L595.48,509.78 L596.01,498.38 L596.55,490.42 L597.09,495.99 L597.62,507.98 L598.16,511.15 L598.70,501.51 L599.23,491.33 L599.77,493.53 L600.31,505.29 L600.84,511.65 L601.38,504.56 L601.91,493.06 L602.45,491.76 L602.99,502.28 L603.52,511.23 L604.06,507.27 L604.60,495.46 L605.13,490.81 L605.67,499.21 L606.21,509.95 L606.74,509.40 L607.28,498.28 L607.81,490.73 L608.35,496.33 L608.89,507.93 L609.42,510.80 L609.96,501.31 L610.50,491.54 L611.03,493.89 L611.57,505.34 L612.11,511.34 L612.64,504.28 L613.18,493.15 L613.72,492.09 L614.25,502.42 L614.79,511.00 L615.32,506.94 L615.86,495.43 L616.40,491.09 L616.93,499.41 L617.47,509.80 L618.01,509.07 L618.54,498.16 L619.08,490.95 L619.62,496.58 L620.15,507.87 L620.69,510.48 L621.22,501.11 L621.76,491.69 L622.30,494.17 L622.83,505.37 L623.37,511.06 L623.91,504.02 L624.44,493.22 L624.98,492.37 L625.52,502.53 L626.05,510.77 L626.59,506.64 L627.13,495.41 L627.66,491.34 L628.20,499.59 L628.73,509.65 L629.27,508.75 L629.81,498.06 L630.34,491.17 L630.88,496.81 L631.42,507.79 L631.95,510.17 L632.49,500.93 L633.03,491.84 L633.56,494.42 L634.10,505.38 L634.63,510.78 L635.17,503.78 L635.71,493.30 L636.24,492.64 L636.78,502.61 L637.32,510.54 L637.85,506.36 L638.39,495.41 L638.93,491.60 L639.46,499.74 L640.00,509.48 L640.54,508.45 L641.07,497.98 L641.61,491.38 L642.14,497.02 L642.68,507.70 L643.22,509.87 L643.75,500.78 L644.29,492.00 L644.83,494.67 L645.36,505.37 L645.90,510.50 L646.44,503.57 L646.97,493.39 L647.51,492.89 L648.04,502.68 L648.58,510.31 L649.12,506.10 L649.65,495.42 L650.19,491.84 L650.73,499.88 L651.26,509.31 L651.80,508.16 L652.34,497.91 L652.87,491.59 L653.41,497.21 L653.95,507.60 L654.48,509.58 L655.02,500.64 L655.55,492.16 L656.09,494.89 L656.63,505.34 L657.16,510.23 L657.70,503.37 L658.24,493.49 L658.77,493.13 L659.31,502.73 L659.85,510.08 L660.38,505.86 L660.92,495.45 L661.45,492.07 L661.99,500.00 L662.53,509.14 L663.06,507.89 L663.60,497.86 L664.14,491.80 L664.67,497.38 L665.21,507.50 L665.75,509.30 L666.28,500.52 L666.82,492.32 L667.36,495.10 L667.89,505.31 L668.43,509.97 L668.96,503.19 L669.50,493.59 L670.04,493.36 L670.57,502.77 L671.11,509.85"/>
<path d="M48.90,769.80 L49.02,765.12 L49.15,760.66 L49.27,756.41 L49.40,752.35 L49.52,748.49 L49.64,744.80 L49.77,741.25 L49.89,737.86 L50.02,734.64 L50.14,731.63 L50.26,728.83 L50.39,726.27 L50.51,723.98 L50.64,721.89 L50.76,719.95 L50.88,718.17 L51.01,716.55 L51.13,715.09 L51.26,713.79 L51.38,712.66 L51.51,711.65 L51.63,710.71 L51.75,709.87 L51.88,709.16 L52.00,708.59 L52.13,708.14 L52.25,707.76 L52.37,707.50 L52.50,707.39 L52.62,707.45 L52.75,707.62 L52.87,707.89 L52.99,708.24 L53.12,708.67 L53.24,709.13 L53.37,709.63 L53.49,710.17 L53.61,710.78 L53.74,711.46 L53.86,712.24 L53.99,713.12 L54.11,714.08 L54.23,715.09 L54.36,716.14 L54.48,717.23 L54.61,718.33 L54.73,719.44 L54.85,720.54 L54.98,721.61 L55.10,722.65 L55.23,723.65 L55.35,724.58 L55.48,725.50 L55.60,726.42 L55.72,727.34 L55.85,728.24 L55.97,729.14 L56.10,730.03 L56.22,730.91 L56.34,731.77 L56.47,732.61 L56.59,733.44 L56.72,734.25 L56.84,735.04 L56.96,735.80 L57.09,736.54 L57.21,737.26 L57.34,737.94 L57.46,738.60 L57.58,739.22 L57.71,739.83 L57.83,740.42 L57.96,740.99 L58.08,741.54 L58.20,742.07 L58.33,742.59 L58.45,743.09 L58.58,743.58 L58.70,744.05 L58.82,744.50 L58.95,744.94 L59.07,745.36 L59.20,745.76 L59.32,746.16 L59.45,746.53 L59.57,746.90 L59.69,747.25 L59.82,747.59 L59.94,747.91 L60.07,748.22 L60.19,748.52 L60.31,748.81 L60.44,749.08 L60.56,749.36 L60.69,749.63 L60.81,749.90 L60.93,750.17 L61.06,750.44 L61.18,750.71 L61.31,750.97 L61.43,751.24 L61.55,751.50 L61.68,751.76 L61.80,752.02 L61.93,752.28 L62.05,752.53 L62.17,752.78 L62.30,753.03 L62.42,753.27 L62.55,753.51 L62.67,753.75 L62.79,753.98 L62.92,754.21 L63.04,754.43 L63.17,754.65 L63.29,754.86 L63.42,755.07 L63.54,755.28 L63.66,755.47 L63.79,755.67 L63.91,755.85 L64.04,756.03 L64.16,756.21 L64.28,756.38 L64.41,756.54 L64.53,756.69 L64.66,756.84 L64.78,756.98 L64.90,757.11 L65.03,757.25 L65.15,757.38 L65.28,757.52 L65.40,757.65 L65.52,757.78 L65.65,757.92 L65.77,758.05 L65.90,758.18 L66.02,758.31 L66.14,758.45 L66.27,758.58 L66.39,758.71 L66.52,758.83 L66.64,758.96 L66.76,759.09 L66.89,759.22 L67.01,759.34 L67.14,759.47 L67.26,759.59 L67.38,759.72 L67.51,759.84 L67.63,759.96 L67.76,760.08 L67.88,760.19 L68.01,760.31 L68.13,760.43 L68.25,760.54 L68.38,760.65 L68.50,760.76 L68.63,760.87 L68.75,760.98 L68.87,761.08 L69.00,761.19 L69.12,761.29 L69.25,761.39 L69.37,761.49 L69.49,761.58 L69.62,761.68 L69.74,761.77 L69.87,761.86 L69.99,761.94 L70.11,762.03 L70.24,762.11 L70.36,762.19 L70.49,762.27 L70.61,762.35 L70.73,762.42 L70.86,762.49 L70.98,762.57 L71.11,762.64 L71.23,762.71 L71.35,762.78 L71.48,762.85 L71.60,762.93 L71.73,763.00 L71.85,763.07 L71.98,763.14 L72.10,763.21 L72.22,763.29 L72.35,763.36 L72.47,763.43 L72.60,763.50 L72.72,763.57 L72.84,763.64 L72.97,763.71 L73.09,763.78 L73.22,763.85 L73.34,763.92 L73.46,763.99 L73.59,764.06 L73.71,764.12 L73.84,764.19 L73.96,764.26 L74.08,764.33 L74.21,764.39 L74.33,764.46 L74.46,764.53 L74.58,764.59 L74.70,764.66 L74.83,764.72 L74.95,764.79 L75.08,764.85 L75.20,764.92 L75.32,764.98 L75.45,765.04 L75.57,765.10 L75.70,765.16 L75.82,765.23 L75.95,765.29 L76.07,765.35 L76.19,765.41 L76.32,765.46 L76.44,765.52 L76.57,765.58 L76.69,765.64 L76.81,765.69 L76.94,765.75 L77.06,765.81 L77.19,765.86 L77.31,765.91 L77.43,765.97 L77.56,766.02 L77.68,766.07 L77.81,766.12 L77.93,766.17 L78.05,766.22 L78.18,766.27 L78.30,766.32 L78.43,766.37 L78.55,766.42 L78.67,766.47 L78.80,766.52 L78.92,766.57 L79.05,766.62 L79.17,766.67 L79.29,766.72 L79.42,766.77 L79.54,766.82 L79.67,766.87 L79.79,766.92 L79.92,766.97 L80.04,767.02 L80.16,767.07 L80.29,767.12 L80.41,767.17 L80.54,767.22 L80.66,767.26 L80.78,767.31 L80.91,767.36 L81.03,767.41 L81.16,767.46 L81.28,767.51 L81.40,767.55 L81.53,767.60 L81.65,767.65 L81.78,767.70 L81.90,767.74 L82.02,767.79 L82.15,767.84 L82.27,767.88 L82.40,767.93 L82.52,767.97 L82.64,768.02 L82.77,768.06 L82.89,768.11 L83.02,768.15 L83.14,768.19 L83.26,768.24 L83.39,768.28 L83.51,768.32 L83.64,768.36 L83.76,768.40 L83.88,768.44 L84.01,768.48 L84.13,768.52 L84.26,768.56 L84.38,768.60 L84.51,768.64 L84.63,768.67 L84.75,768.71 L84.88,768.75 L85.00,768.78 L85.13,768.82 L85.25,768.85 L85.37,768.88 L85.50,768.92 L85.62,768.95 L85.75,768.98 L85.87,769.01 L85.99,769.04 L86.12,769.07 L86.24,769.10 L86.37,769.13 L86.49,769.16 L86.61,769.18 L86.74,769.21 L86.86,769.23 L86.99,769.26 L87.11,769.28 L87.23,769.31 L87.36,769.33 L87.48,769.36 L87.61,769.38 L87.73,769.41 L87.85,769.43 L87.98,769.46 L88.10,769.48 L88.23,769.51 L88.35,769.53 L88.48,769.56 L88.60,769.58 L88.72,769.60 L88.85,769.63 L88.97,769.65 L89.10,769.68 L89.22,769.70 L89.34,769.72 L89.47,769.75 L89.59,769.77 L89.72,769.79 L89.84,769.82 L89.96,769.84 L90.09,769.86 L90.21,769.89 L90.34,769.91 L90.46,769.93 L90.58,769.95 L90.71,769.98 L90.83,770.00 L90.96,770.02 L91.08,770.04 L91.20,770.07 L91.33,770.09 L91.45,770.11 L91.58,770.13 L91.70,770.15 L91.82,770.18 L91.95,770.20 L92.07,770.22 L92.20,770.24 L92.32,770.26 L92.45,770.28 L92.57,770.31 L92.69,770.33 L92.82,770.35 L92.94,770.37 L93.07,770.39 L93.19,770.41 L93.31,770.43 L93.44,770.45 L93.56,770.47 L93.69,770.49 L93.81,770.51 L93.93,770.53 L94.06,770.56 L94.18,770.58 L94.31,770.60 L94.43,770.62 L94.55,770.64 L94.68,770.65 L94.80,770.67 L94.93,770.69 L95.05,770.71 L95.17,770.73 L95.30,770.75 L95.42,770.77 L95.55,770.79 L95.67,770.81 L95.79,770.83 L95.92,770.85 L96.04,770.87 L96.17,770.89 L96.29,770.90 L96.42,770.92 L96.54,770.94 L96.66,770.96 L96.79,770.98 L96.91,771.00 L97.04,771.01 L97.16,771.03 L97.28,771.05 L97.41,771.07 L97.53,771.08 L97.66,771.10 L97.78,771.12 L97.90,771.14 L98.03,771.15 L98.15,771.17 L98.28,771.19 L98.40,771.21 L98.67,771.24 L98.95,771.28 L99.22,771.32 L99.50,771.36 L99.77,771.39 L100.04,771.43 L100.32,771.47 L100.59,771.50 L100.87,771.54 L101.14,771.57 L101.41,771.61 L101.69,771.64 L101.96,771.67 L102.24,771.70 L102.51,771.73 L102.78,771.76 L103.06,771.79 L103.33,771.82 L103.61,771.85 L103.88,771.87 L104.15,771.90 L104.43,771.92 L104.70,771.95 L104.98,771.97 L105.25,771.99 L105.52,772.01 L105.80,772.04 L106.07,772.06 L106.35,772.08 L106.62,772.09 L106.89,772.11 L107.17,772.13 L107.44,772.15 L107.71,772.17 L107.99,772.18 L108.26,772.20 L108.54,772.21 L108.81,772.23 L109.08,772.24 L109.36,772.25 L109.63,772.27 L109.91,772.28 L110.18,772.29 L110.45,772.30 L110.73,772.31 L111.00,772.32 L111.28,772.33 L111.55,772.34 L111.82,772.35 L112.10,772.35 L112.37,772.36 L112.65,772.37 L112.92,772.37 L113.19,772.38 L113.47,772.39 L113.74,772.39 L114.02,772.39 L114.29,772.40 L114.56,772.40 L114.84,772.40 L115.11,772.41 L115.39,772.41 L115.66,772.41 L115.93,772.41 L116.21,772.41 L116.48,772.41 L116.76,772.41 L117.03,772.41 L117.30,772.41 L117.58,772.41 L117.85,772.41 L118.13,772.40 L118.40,772.40 L118.67,772.40 L118.95,772.39 L119.22,772.39 L119.50,772.39 L119.77,772.38 L120.04,772.38 L120.32,772.37 L120.59,772.37 L120.87,772.36 L121.14,772.36 L121.41,772.35 L121.69,772.34 L121.96,772.34 L122.24,772.33 L122.51,772.32 L122.78,772.31 L123.06,772.31 L123.33,772.30 L123.61,772.29 L123.88,772.28 L124.15,772.27 L124.43,772.26 L124.70,772.25 L124.97,772.24 L125.25,772.23 L125.52,772.22 L125.80,772.21 L126.07,772.20 L126.34,772.19 L126.62,772.18 L126.89,772.17 L127.17,772.16 L127.44,772.15 L127.71,772.14 L127.99,772.13 L128.26,772.11 L128.54,772.10 L128.81,772.09 L129.08,772.08 L129.36,772.07 L129.63,772.05 L129.91,772.04 L130.18,772.03 L130.45,772.02 L130.73,772.00 L131.00,771.99 L131.28,771.98 L131.55,771.96 L131.82,771.95 L132.10,771.93 L132.37,771.92 L132.65,771.91 L132.92,771.89 L133.19,771.88 L133.47,771.86 L133.74,771.85 L134.02,771.84 L134.29,771.82 L134.56,771.81 L134.84,771.79 L135.11,771.78 L135.39,771.76 L135.66,771.75 L135.93,771.73 L136.21,771.71 L136.48,771.70 L136.76,771.68 L137.03,771.67 L137.30,771.65 L137.58,771.64 L137.85,771.62 L138.13,771.60 L138.40,771.59 L138.67,771.57 L138.95,771.55 L139.22,771.54 L139.50,771.52 L139.77,771.50 L140.04,771.49 L140.32,771.47 L140.59,771.45 L140.86,771.44 L141.14,771.42 L141.41,771.40 L141.69,771.39 L141.96,771.37 L142.23,771.35 L142.51,771.33 L142.78,771.31 L143.06,771.30 L143.33,771.28 L143.60,771.26 L143.88,771.24 L144.15,771.23 L144.43,771.21 L144.70,771.19 L144.97,771.17 L145.25,771.15 L145.52,771.13 L145.80,771.12 L146.07,771.10 L146.34,771.08 L146.62,771.06 L146.89,771.04 L147.17,771.02 L147.44,771.00 L147.71,770.99 L147.99,770.97 L148.26,770.95 L148.54,770.93 L148.81,770.91 L149.08,770.89 L149.36,770.87 L149.63,770.85 L149.91,770.83 L150.18,770.81 L150.45,770.80 L150.73,770.78 L151.00,770.76 L151.28,770.74 L151.55,770.72 L151.82,770.70 L152.10,770.68 L152.37,770.66 L152.65,770.64 L152.92,770.62 L153.19,770.60 L153.47,770.58 L153.74,770.56 L154.02,770.54 L154.29,770.52 L154.56,770.50 L154.84,770.48 L155.11,770.46 L155.39,770.45 L155.66,770.43 L155.93,770.41 L156.21,770.39 L156.48,770.37 L156.76,770.35 L157.03,770.33 L157.30,770.31 L157.58,770.29 L157.85,770.27 L158.12,770.25 L158.40,770.23 L158.67,770.21 L158.95,770.19 L159.22,770.17 L159.49,770.15 L159.77,770.13 L160.04,770.11 L160.32,770.09 L160.59,770.07 L160.86,770.05 L161.14,770.03 L161.41,770.01 L161.69,769.99 L161.96,769.98 L162.23,769.96 L162.51,769.94 L162.78,769.92 L163.06,769.90 L163.33,769.88 L163.60,769.86 L163.88,769.84 L164.15,769.82 L164.43,769.80 L164.70,769.78 L164.97,769.76 L165.25,769.74 L165.52,769.73 L165.80,769.71 L166.07,769.69 L166.34,769.67 L166.62,769.65 L166.89,769.63 L167.17,769.61 L167.44,769.59 L167.71,769.57 L167.99,769.56 L168.26,769.54 L168.54,769.52 L168.81,769.50 L169.08,769.48 L169.36,769.46 L169.63,769.45 L169.91,769.43 L170.18,769.41 L170.45,769.39 L170.73,769.37 L171.00,769.36 L171.28,769.34 L171.55,769.32 L171.82,769.30 L172.10,769.29 L172.37,769.27 L172.65,769.25 L172.92,769.23 L173.19,769.22 L173.47,769.20 L173.74,769.18 L174.02,769.16 L174.29,769.15 L174.56,769.13 L174.84,769.11 L175.11,769.10 L175.38,769.08 L175.66,769.06 L175.93,769.05 L176.21,769.03 L176.48,769.01 L176.75,769.00 L177.03,768.98 L177.30,768.97 L177.58,768.95 L177.85,768.94 L178.12,768.92 L178.40,768.90 L178.67,768.89 L178.95,768.87 L179.22,768.86 L179.49,768.84 L179.77,768.83 L180.04,768.81 L180.32,768.80 L180.59,768.78 L180.86,768.77 L181.14,768.76 L181.41,768.74 L181.69,768.73 L181.96,768.71 L182.23,768.70 L182.51,768.69 L182.78,768.67 L183.06,768.66 L183.33,768.65 L183.60,768.63 L183.88,768.62 L184.15,768.61 L184.43,768.59 L184.70,768.58 L184.97,768.57 L185.25,768.56 L185.52,768.54 L185.80,768.53 L186.07,768.52 L186.34,768.51 L186.62,768.50 L186.89,768.48 L187.17,768.47 L187.44,768.46 L187.71,768.45 L187.99,768.44 L188.26,768.43 L188.54,768.42 L188.81,768.41 L189.08,768.40 L189.36,768.39 L189.63,768.38 L189.91,768.37 L190.18,768.36 L190.45,768.35 L190.73,768.34 L191.00,768.33 L191.27,768.32 L191.55,768.31 L191.82,768.31 L192.10,768.30 L192.37,768.29 L192.64,768.28 L192.92,768.27 L193.19,768.27 L193.47,768.26 L193.74,768.25 L194.01,768.24 L194.29,768.24 L194.56,768.23 L194.84,768.22 L195.11,768.22 L195.38,768.21 L195.66,768.20 L195.93,768.20 L196.21,768.19 L196.48,768.19 L196.75,768.18 L197.03,768.17 L197.30,768.17 L197.58,768.16 L197.85,768.16 L198.12,768.15 L198.40,768.15 L198.67,768.14 L198.95,768.14 L199.22,768.14 L199.49,768.13 L199.77,768.13 L200.04,768.12 L200.32,768.12 L200.59,768.12 L200.86,768.11 L201.14,768.11 L201.41,768.11 L201.69,768.10 L201.96,768.10 L202.23,768.10 L202.51,768.10 L202.78,768.09 L203.06,768.09 L203.33,768.09 L203.60,768.09 L203.88,768.09 L204.15,768.08 L204.43,768.08 L204.70,768.08 L204.97,768.08 L205.25,768.08 L205.52,768.08 L205.80,768.08 L206.07,768.08 L206.34,768.07 L206.62,768.07 L206.89,768.07 L207.17,768.07 L207.44,768.07 L207.71,768.07 L207.99,768.07 L208.26,768.07 L208.53,768.07 L208.81,768.07 L209.08,768.07 L209.36,768.08 L209.63,768.08 L209.90,768.08 L210.18,768.08 L210.45,768.08 L210.73,768.08 L211.00,768.08 L211.27,768.08 L211.55,768.09 L211.82,768.09 L212.10,768.09 L212.37,768.09 L212.64,768.09 L212.92,768.10 L213.19,768.10 L213.47,768.10 L213.74,768.10 L214.01,768.11 L214.29,768.11 L214.56,768.11 L214.84,768.11 L215.11,768.12 L215.38,768.12 L215.66,768.12 L215.93,768.13 L216.21,768.13 L216.48,768.13 L216.75,768.14 L217.03,768.14 L217.30,768.15 L217.58,768.15 L217.85,768.15 L218.12,768.16 L218.40,768.16 L218.67,768.17 L218.95,768.17 L219.22,768.18 L219.49,768.18 L219.77,768.18 L220.04,768.19 L220.32,768.19 L220.59,768.20 L220.86,768.20 L221.14,768.21 L221.41,768.22 L221.69,768.22 L221.96,768.23 L222.23,768.23 L222.51,768.24 L222.78,768.24 L223.06,768.25 L223.33,768.25 L223.60,768.26 L223.88,768.27 L224.15,768.27 L224.43,768.28 L224.70,768.29 L224.97,768.29 L225.25,768.30 L225.52,768.30 L225.79,768.31 L226.07,768.32 L226.34,768.32 L226.62,768.33 L226.89,768.34 L227.16,768.35 L227.44,768.35 L227.71,768.36 L227.99,768.37 L228.26,768.37 L228.53,768.38 L228.81,768.39 L229.08,768.40 L229.36,768.40 L229.63,768.41 L229.90,768.42 L230.18,768.43 L230.45,768.43 L230.73,768.44 L231.00,768.45 L231.27,768.46 L231.55,768.47 L231.82,768.47 L232.10,768.48 L232.37,768.49 L232.64,768.50 L232.92,768.51 L233.19,768.52 L233.47,768.52 L233.74,768.53 L234.01,768.54 L234.29,768.55 L234.56,768.56 L234.84,768.57 L235.11,768.58 L235.38,768.58 L235.66,768.59 L235.93,768.60 L236.21,768.61 L236.48,768.62 L236.75,768.63 L237.03,768.64 L237.30,768.65 L237.58,768.66 L237.85,768.66 L238.12,768.67 L238.40,768.68 L238.67,768.69 L238.95,768.70 L239.22,768.71 L239.49,768.72 L239.77,768.73 L240.04,768.74 L240.32,768.75 L240.59,768.76 L240.86,768.77 L241.14,768.78 L241.41,768.79 L241.68,768.80 L241.96,768.81 L242.23,768.82 L242.51,768.83 L242.78,768.84 L243.05,768.85 L243.33,768.86 L243.60,768.87 L243.88,768.88 L244.15,768.89 L244.42,768.90 L244.70,768.91 L244.97,768.92 L245.25,768.93 L245.52,768.94 L245.79,768.95 L246.07,768.96 L246.34,768.97 L246.62,768.98 L246.89,768.99 L247.16,769.00 L247.44,769.01 L247.71,769.02 L247.99,769.03 L248.26,769.04 L248.53,769.05 L248.81,769.06 L249.08,769.07 L249.36,769.08 L249.63,769.09 L249.90,769.10 L250.18,769.11 L250.45,769.12 L250.73,769.13 L251.00,769.14 L251.27,769.15 L251.55,769.16 L251.82,769.17 L252.10,769.18 L252.37,769.19 L252.64,769.20 L252.92,769.21 L253.19,769.22 L253.47,769.23 L253.74,769.25 L254.01,769.26 L254.29,769.27 L254.56,769.28 L254.84,769.29 L255.11,769.30 L255.38,769.31 L255.66,769.32 L255.93,769.33 L256.21,769.34 L256.48,769.35 L256.75,769.36 L257.03,769.37 L257.30,769.38 L257.58,769.39 L257.85,769.40 L258.12,769.41 L258.40,769.42 L258.67,769.43 L258.94,769.44 L259.22,769.45 L259.49,769.46 L259.77,769.47 L260.04,769.48 L260.31,769.49 L260.59,769.50 L260.86,769.51 L261.14,769.52 L261.41,769.53 L261.68,769.54 L261.96,769.55 L262.23,769.56 L262.51,769.57 L262.78,769.58 L263.05,769.59 L263.33,769.60 L263.60,769.61 L263.88,769.62 L264.15,769.63 L264.42,769.64 L264.70,769.65 L264.97,769.66 L265.25,769.67 L265.52,769.68 L265.79,769.69 L266.07,769.70 L266.34,769.71 L266.62,769.72 L266.89,769.73 L267.16,769.74 L267.44,769.75 L267.71,769.76 L267.99,769.77 L268.26,769.77 L268.53,769.78 L268.81,769.79 L269.08,769.80 L269.36,769.81 L269.63,769.82 L269.90,769.83 L270.18,769.84 L270.45,769.85 L270.73,769.86 L271.00,769.86 L271.27,769.87 L271.55,769.88 L271.82,769.89 L272.10,769.90 L272.37,769.91 L272.64,769.92 L272.92,769.92 L273.19,769.93 L273.47,769.94 L273.74,769.95 L274.01,769.96 L274.29,769.97 L274.56,769.97 L274.84,769.98 L275.11,769.99 L275.38,770.00 L275.66,770.01 L275.93,770.01 L276.20,770.02 L276.48,770.03 L276.75,770.04 L277.03,770.04 L277.30,770.05 L277.57,770.06 L277.85,770.07 L278.12,770.07 L278.40,770.08 L278.67,770.09 L278.94,770.10 L279.22,770.10 L279.49,770.11 L279.77,770.12 L280.04,770.12 L280.31,770.13 L280.59,770.14 L280.86,770.14 L281.14,770.15 L281.41,770.16 L281.68,770.16 L281.96,770.17 L282.23,770.18 L282.51,770.18 L282.78,770.19 L283.05,770.19 L283.33,770.20 L283.60,770.21 L283.88,770.21 L284.15,770.22 L284.42,770.22 L284.70,770.23 L284.97,770.23 L285.25,770.24 L285.52,770.24 L285.79,770.25 L286.07,770.25 L286.34,770.26 L286.62,770.26 L286.89,770.27 L287.16,770.27 L287.44,770.28 L287.71,770.28 L287.99,770.29 L288.26,770.29 L288.53,770.29 L288.81,770.30 L289.08,770.30 L289.36,770.31 L289.63,770.31 L289.90,770.31 L290.18,770.32 L290.45,770.32 L290.73,770.32 L291.00,770.33 L291.27,770.33 L291.55,770.33 L291.82,770.34 L292.09,770.34 L292.37,770.34 L292.64,770.34 L292.92,770.35 L293.19,770.35 L293.46,770.35 L293.74,770.35 L294.01,770.36 L294.29,770.36 L294.56,770.36 L294.83,770.36 L295.11,770.36 L295.38,770.37 L295.66,770.37 L295.93,770.37 L296.20,770.37 L296.48,770.37 L296.75,770.37 L297.03,770.37 L297.30,770.37 L297.57,770.37 L297.85,770.37 L298.12,770.37 L298.40,770.37 L298.67,770.37 L298.94,770.37 L299.22,770.37 L299.49,770.37 L299.77,770.37 L300.04,770.37 L300.31,770.37 L300.59,770.37 L300.86,770.37 L301.14,770.37 L301.41,770.37 L301.68,770.37 L301.96,770.36 L302.23,770.36 L302.51,770.36 L302.78,770.36 L303.05,770.36 L303.33,770.36 L303.60,770.35 L303.88,770.35 L304.15,770.35 L304.42,770.35 L304.70,770.34 L304.97,770.34 L305.25,770.34 L305.52,770.33 L305.79,770.33 L306.07,770.33 L306.34,770.32 L306.62,770.32 L306.89,770.31 L307.16,770.31 L307.44,770.31 L307.71,770.30 L307.99,770.30 L308.26,770.29 L308.53,770.29 L308.81,770.28 L309.08,770.28 L309.35,770.27 L309.63,770.27 L309.90,770.26 L310.18,770.26 L310.45,770.25 L310.72,770.24 L311.00,770.24 L311.27,770.23 L311.55,770.22 L311.82,770.22 L312.09,770.21 L312.37,770.20 L312.64,770.20 L312.92,770.19 L313.19,770.18 L313.46,770.17 L313.74,770.16 L314.01,770.16 L314.29,770.15 L314.56,770.14 L314.83,770.13 L315.11,770.12 L315.38,770.11 L315.66,770.11 L315.93,770.10 L316.20,770.09 L316.48,770.08 L316.75,770.07 L317.03,770.06 L317.30,770.05"/>
<path d="M402.91,769.45 L403.45,757.35 L403.98,761.08 L404.52,775.54 L405.06,781.88 L405.59,772.10 L406.13,759.09 L406.66,759.65 L407.20,772.80 L407.74,781.40 L408.27,774.50 L408.81,761.24 L409.35,758.77 L409.88,770.04 L410.42,780.34 L410.96,776.50 L411.49,763.70 L412.03,758.50 L412.57,767.42 L413.10,778.77 L413.64,777.99 L414.17,766.30 L414.71,758.85 L415.25,765.08 L415.78,776.78 L416.32,778.90 L416.86,768.91 L417.39,759.80 L417.93,763.17 L418.47,774.49 L419.00,779.17 L419.54,771.36 L420.07,761.26 L420.61,761.79 L421.15,772.07 L421.68,778.82 L422.22,773.51 L422.76,763.12 L423.29,760.99 L423.83,769.67 L424.37,777.88 L424.90,775.18 L425.44,765.31 L425.98,760.97 L426.51,767.49 L427.05,776.30 L427.58,776.18 L428.12,767.56 L428.66,761.58 L429.19,765.73 L429.73,774.46 L430.27,776.60 L430.80,769.64 L431.34,762.65 L431.88,764.46 L432.41,772.52 L432.95,776.47 L433.48,771.43 L434.02,764.05 L434.56,763.70 L435.09,770.62 L435.63,775.86 L436.17,772.85 L436.70,765.64 L437.24,763.45 L437.78,768.90 L438.31,774.88 L438.85,773.84 L439.39,767.29 L439.92,763.66 L440.46,767.44 L440.99,773.64 L441.53,774.37 L442.07,768.87 L442.60,764.26 L443.14,766.33 L443.68,772.27 L444.21,774.50 L444.75,770.29 L445.29,765.12 L445.82,765.55 L446.36,770.89 L446.89,774.29 L447.43,771.49 L447.97,766.18 L448.50,765.13 L449.04,769.56 L449.58,773.75 L450.11,772.40 L450.65,767.36 L451.19,765.08 L451.72,768.37 L452.26,772.95 L452.80,773.00 L453.33,768.57 L453.87,765.36 L454.40,767.39 L454.94,771.97 L455.48,773.26 L456.01,769.71 L456.55,765.91 L457.09,766.66 L457.62,770.94 L458.16,773.27 L458.70,770.73 L459.23,766.60 L459.77,766.14 L460.30,769.89 L460.84,773.03 L461.38,771.59 L461.91,767.45 L462.45,765.90 L462.99,768.87 L463.52,772.54 L464.06,772.24 L464.60,768.41 L465.13,765.95 L465.67,767.96 L466.21,771.83 L466.74,772.64 L467.28,769.39 L467.81,766.26 L468.35,767.22 L468.89,770.99 L469.42,772.76 L469.96,770.31 L470.50,766.80 L471.03,766.69 L471.57,770.08 L472.11,772.62 L472.64,771.11 L473.18,767.51 L473.71,766.42 L474.25,769.18 L474.79,772.25 L475.32,771.73 L475.86,768.33 L476.40,766.39 L476.93,768.35 L477.47,771.68 L478.01,772.14 L478.54,769.18 L479.08,766.60 L479.62,767.66 L480.15,770.98 L480.69,772.32 L481.22,770.01 L481.76,767.02 L482.30,767.15 L482.83,770.19 L483.37,772.26 L483.91,770.74 L484.44,767.61 L484.98,766.85 L485.52,769.39 L486.05,771.98 L486.59,771.33 L487.12,768.31 L487.66,766.77 L488.20,768.65 L488.73,771.52 L489.27,771.74 L489.81,769.06 L490.34,766.91 L490.88,768.01 L491.42,770.92 L491.95,771.94 L492.49,769.79 L493.03,767.24 L493.56,767.52 L494.10,770.24 L494.63,771.93 L495.17,770.46 L495.71,767.73 L496.24,767.21 L496.78,769.54 L497.32,771.72 L497.85,771.00 L498.39,768.33 L498.93,767.11 L499.46,768.87 L500.00,771.34 L500.53,771.39 L501.07,768.98 L501.61,767.19 L502.14,768.28 L502.68,770.84 L503.22,771.60 L503.75,769.64 L504.29,767.46 L504.83,767.83 L505.36,770.25 L505.90,771.63 L506.44,770.23 L506.97,767.87 L507.51,767.53 L508.04,769.63 L508.58,771.48 L509.12,770.74 L509.65,768.38 L510.19,767.41 L510.73,769.03 L511.26,771.18 L511.80,771.12 L512.34,768.94 L512.87,767.43 L513.41,768.49 L513.94,770.76 L514.48,771.35 L515.02,769.52 L515.55,767.61 L516.09,768.05 L516.63,770.26 L517.16,771.43 L517.70,770.08 L518.24,767.94 L518.77,767.73 L519.31,769.70 L519.85,771.34 L520.38,770.57 L520.92,768.39 L521.45,767.57 L521.99,769.14 L522.53,771.10 L523.06,770.95 L523.60,768.90 L524.14,767.56 L524.67,768.63 L525.21,770.73 L525.75,771.19 L526.28,769.44 L526.82,767.72 L527.35,768.20 L527.89,770.27 L528.43,771.28 L528.96,769.97 L529.50,768.01 L530.04,767.89 L530.57,769.75 L531.11,771.22 L531.65,770.43 L532.18,768.41 L532.72,767.72 L533.26,769.23 L533.79,771.01 L534.33,770.80 L534.86,768.88 L535.40,767.69 L535.94,768.75 L536.47,770.68 L537.01,771.04 L537.55,769.38 L538.08,767.82 L538.62,768.34 L539.16,770.26 L539.69,771.14 L540.23,769.87 L540.76,768.08 L541.30,768.04 L541.84,769.79 L542.37,771.09 L542.91,770.31 L543.45,768.44 L543.98,767.87 L544.52,769.30 L545.06,770.91 L545.59,770.65 L546.13,768.87 L546.67,767.84 L547.20,768.85 L547.74,770.62 L548.27,770.89 L548.81,769.34 L549.35,767.94 L549.88,768.47 L550.42,770.24 L550.96,770.99 L551.49,769.79 L552.03,768.17 L552.57,768.18 L553.10,769.80 L553.64,770.96 L554.17,770.20 L554.71,768.49 L555.25,768.01 L555.78,769.36 L556.32,770.81 L556.86,770.52 L557.39,768.88 L557.93,767.97 L558.47,768.94 L559.00,770.55 L559.54,770.75 L560.08,769.30 L560.61,768.06 L561.15,768.58 L561.68,770.21 L562.22,770.86 L562.76,769.72 L563.29,768.25 L563.83,768.31 L564.37,769.81 L564.90,770.84 L565.44,770.10 L565.98,768.54 L566.51,768.15 L567.05,769.41 L567.58,770.71 L568.12,770.41 L568.66,768.89 L569.19,768.10 L569.73,769.02 L570.27,770.48 L570.80,770.62 L571.34,769.28 L571.88,768.16 L572.41,768.68 L572.95,770.17 L573.49,770.73 L574.02,769.66 L574.56,768.33 L575.09,768.43 L575.63,769.81 L576.17,770.73 L576.70,770.02 L577.24,768.59 L577.78,768.27 L578.31,769.44 L578.85,770.62 L579.39,770.31 L579.92,768.91 L580.46,768.21 L580.99,769.08 L581.53,770.41 L582.07,770.51 L582.60,769.27 L583.14,768.26 L583.68,768.77 L584.21,770.13 L584.75,770.62 L585.29,769.62 L585.82,768.41 L586.36,768.53 L586.90,769.81 L587.43,770.62 L587.97,769.94 L588.50,768.64 L589.04,768.37 L589.58,769.47 L590.11,770.53 L590.65,770.22 L591.19,768.93 L591.72,768.32 L592.26,769.14 L592.80,770.35 L593.33,770.41 L593.87,769.26 L594.40,768.36 L594.94,768.85 L595.48,770.10 L596.01,770.52 L596.55,769.58 L597.09,768.49 L597.62,768.62 L598.16,769.80 L598.70,770.53 L599.23,769.88 L599.77,768.70 L600.31,768.47 L600.84,769.49 L601.38,770.45 L601.91,770.14 L602.45,768.96 L602.99,768.41 L603.52,769.18 L604.06,770.28 L604.60,770.32 L605.13,769.25 L605.67,768.44 L606.21,768.92 L606.74,770.06 L607.28,770.42 L607.81,769.55 L608.35,768.56 L608.89,768.70 L609.42,769.79 L609.96,770.44 L610.50,769.83 L611.03,768.75 L611.57,768.56 L612.11,769.50 L612.64,770.37 L613.18,770.06 L613.72,768.98 L614.25,768.50 L614.79,769.22 L615.32,770.23 L615.86,770.24 L616.40,769.25 L616.93,768.53 L617.47,768.97 L618.01,770.02 L618.54,770.34 L619.08,769.53 L619.62,768.63 L620.15,768.78 L620.69,769.78 L621.22,770.36 L621.76,769.78 L622.30,768.79 L622.83,768.64 L623.37,769.51 L623.91,770.30 L624.44,770.00 L624.98,769.01 L625.52,768.58 L626.05,769.26 L626.59,770.17 L627.13,770.16 L627.66,769.26 L628.20,768.60 L628.73,769.03 L629.27,769.98 L629.81,770.26 L630.34,769.51 L630.88,768.69 L631.42,768.84 L631.95,769.76 L632.49,770.28 L633.03,769.74 L633.56,768.84 L634.10,768.72 L634.63,769.52 L635.17,770.23 L635.71,769.95 L636.24,769.04 L636.78,768.66 L637.32,769.28 L637.85,770.12 L638.39,770.10 L638.93,769.26 L639.46,768.67 L640.00,769.07 L640.54,769.95 L641.07,770.19 L641.61,769.49 L642.14,768.75 L642.68,768.90 L643.22,769.75 L643.75,770.21 L644.29,769.71 L644.83,768.88 L645.36,768.78 L645.90,769.53 L646.44,770.17 L646.97,769.90 L647.51,769.06 L648.04,768.73 L648.58,769.31 L649.12,770.07 L649.65,770.04 L650.19,769.27 L650.73,768.73 L651.26,769.11 L651.80,769.91 L652.34,770.12 L652.87,769.48 L653.41,768.80 L653.95,768.95 L654.48,769.73 L655.02,770.15 L655.55,769.68 L656.09,768.93 L656.63,768.84 L657.16,769.53 L657.70,770.11 L658.24,769.85 L658.77,769.09 L659.31,768.79 L659.85,769.33 L660.38,770.02 L660.92,769.98 L661.45,769.27 L661.99,768.79 L662.53,769.15 L663.06,769.88 L663.60,770.06 L664.14,769.47 L664.67,768.85 L665.21,769.00 L665.75,769.71 L666.28,770.09 L666.82,769.65 L667.36,768.96 L667.89,768.90 L668.43,769.53 L668.96,770.06 L669.50,769.81 L670.04,769.11 L670.57,768.84 L671.11,769.34"/>
</g>
<g fill="none" stroke="#000" stroke-width="0.78" stroke-linecap="butt">
<rect x="35.50" y="0.50" width="295.00" height="172.00" stroke-linejoin="miter"/>
<path d="M48.91,172.50v3.4M102.55,172.50v3.4M156.19,172.50v3.4M209.83,172.50v3.4M263.47,172.50v3.4M317.11,172.50v3.4M35.50,151.45h-3.4M35.50,110.40h-3.4M35.50,69.35h-3.4M35.50,28.30h-3.4"/>
<rect x="389.50" y="0.50" width="295.00" height="172.00" stroke-linejoin="miter"/>
<path d="M402.91,172.50v3.4M456.55,172.50v3.4M510.19,172.50v3.4M563.83,172.50v3.4M617.47,172.50v3.4M671.11,172.50v3.4M389.50,151.45h-3.4M389.50,110.40h-3.4M389.50,69.35h-3.4M389.50,28.30h-3.4"/>
<rect x="35.50" y="206.50" width="295.00" height="172.00" stroke-linejoin="miter"/>
<path d="M48.91,378.50v3.4M102.55,378.50v3.4M156.19,378.50v3.4M209.83,378.50v3.4M263.47,378.50v3.4M317.11,378.50v3.4M35.50,357.45h-3.4M35.50,316.40h-3.4M35.50,275.35h-3.4M35.50,234.30h-3.4"/>
<rect x="389.50" y="206.50" width="295.00" height="172.00" stroke-linejoin="miter"/>
<path d="M402.91,378.50v3.4M456.55,378.50v3.4M510.19,378.50v3.4M563.83,378.50v3.4M617.47,378.50v3.4M671.11,378.50v3.4M389.50,357.45h-3.4M389.50,316.40h-3.4M389.50,275.35h-3.4M389.50,234.30h-3.4"/>
<rect x="35.50" y="412.50" width="295.00" height="172.00" stroke-linejoin="miter"/>
<path d="M48.91,584.50v3.4M102.55,584.50v3.4M156.19,584.50v3.4M209.83,584.50v3.4M263.47,584.50v3.4M317.11,584.50v3.4M35.50,563.45h-3.4M35.50,522.40h-3.4M35.50,481.35h-3.4M35.50,440.30h-3.4"/>
<rect x="389.50" y="412.50" width="295.00" height="172.00" stroke-linejoin="miter"/>
<path d="M402.91,584.50v3.4M456.55,584.50v3.4M510.19,584.50v3.4M563.83,584.50v3.4M617.47,584.50v3.4M671.11,584.50v3.4M389.50,563.45h-3.4M389.50,522.40h-3.4M389.50,481.35h-3.4M389.50,440.30h-3.4"/>
<rect x="35.50" y="618.50" width="295.00" height="172.00" stroke-linejoin="miter"/>
<path d="M48.91,790.50v3.4M102.55,790.50v3.4M156.19,790.50v3.4M209.83,790.50v3.4M263.47,790.50v3.4M317.11,790.50v3.4M35.50,769.45h-3.4M35.50,728.40h-3.4M35.50,687.35h-3.4M35.50,646.30h-3.4"/>
<rect x="389.50" y="618.50" width="295.00" height="172.00" stroke-linejoin="miter"/>
<path d="M402.91,790.50v3.4M456.55,790.50v3.4M510.19,790.50v3.4M563.83,790.50v3.4M617.47,790.50v3.4M671.11,790.50v3.4M389.50,769.45h-3.4M389.50,728.40h-3.4M389.50,687.35h-3.4M389.50,646.30h-3.4"/>
</g>
<g font-family="DejaVu Sans, Liberation Sans, sans-serif" font-size="9.72" fill="#000" stroke="#000" stroke-width="0.16">
<text x="28.7" y="155.65" text-anchor="end">0.0</text>
<text x="28.7" y="114.60" text-anchor="end">0.2</text>
<text x="28.7" y="73.55" text-anchor="end">0.4</text>
<text x="28.7" y="32.50" text-anchor="end">0.6</text>
<text x="28.7" y="361.65" text-anchor="end">0.0</text>
<text x="28.7" y="320.60" text-anchor="end">0.2</text>
<text x="28.7" y="279.55" text-anchor="end">0.4</text>
<text x="28.7" y="238.50" text-anchor="end">0.6</text>
<text x="28.7" y="567.65" text-anchor="end">0.0</text>
<text x="28.7" y="526.60" text-anchor="end">0.2</text>
<text x="28.7" y="485.55" text-anchor="end">0.4</text>
<text x="28.7" y="444.50" text-anchor="end">0.6</text>
<text x="28.7" y="773.65" text-anchor="end">0.0</text>
<text x="28.7" y="732.60" text-anchor="end">0.2</text>
<text x="28.7" y="691.55" text-anchor="end">0.4</text>
<text x="28.7" y="650.50" text-anchor="end">0.6</text>
<text x="49.31" y="805.0" text-anchor="middle">0</text>
<text x="102.95" y="805.0" text-anchor="middle">10</text>
<text x="156.59" y="805.0" text-anchor="middle">20</text>
<text x="210.23" y="805.0" text-anchor="middle">30</text>
<text x="263.87" y="805.0" text-anchor="middle">40</text>
<text x="317.51" y="805.0" text-anchor="middle">50</text>
<text x="183.60" y="819.2" text-anchor="middle"><tspan font-style="italic">t</tspan><tspan dx="0.4">[</tspan><tspan font-style="italic" dx="0.3">E</tspan><tspan font-size="7.0" dy="-4.1" dx="0.5">−1</tspan><tspan dy="4.1" dx="0.5">]</tspan></text>
<text x="403.31" y="805.0" text-anchor="middle">0</text>
<text x="456.95" y="805.0" text-anchor="middle">10</text>
<text x="510.59" y="805.0" text-anchor="middle">20</text>
<text x="564.23" y="805.0" text-anchor="middle">30</text>
<text x="617.87" y="805.0" text-anchor="middle">40</text>
<text x="671.51" y="805.0" text-anchor="middle">50</text>
<text x="537.60" y="819.2" text-anchor="middle"><tspan font-style="italic">t</tspan><tspan dx="0.4">[</tspan><tspan font-style="italic" dx="0.3">E</tspan><tspan font-size="7.0" dy="-4.1" dx="0.5">−1</tspan><tspan dy="4.1" dx="0.5">]</tspan></text>
<text transform="translate(7.0,84.80) rotate(-90)" text-anchor="middle"><tspan font-style="italic">c</tspan><tspan font-size="6.8" dy="1.5">00</tspan></text>
<text transform="translate(383.5,84.30) rotate(-90)" text-anchor="middle"><tspan font-style="italic">c</tspan><tspan font-size="6.8" dy="1.5">00</tspan></text>
<text transform="translate(7.0,290.80) rotate(-90)" text-anchor="middle"><tspan font-style="italic">c</tspan><tspan font-size="6.8" dy="1.5">11</tspan></text>
<text transform="translate(383.5,290.30) rotate(-90)" text-anchor="middle"><tspan font-style="italic">c</tspan><tspan font-size="6.8" dy="1.5">11</tspan></text>
<text transform="translate(7.0,496.80) rotate(-90)" text-anchor="middle"><tspan font-style="italic">Re</tspan>(<tspan font-style="italic">c</tspan><tspan font-size="6.8" dy="1.5">01</tspan><tspan dy="-1.5">) and </tspan><tspan font-style="italic">Re</tspan>(<tspan font-style="italic">c</tspan><tspan font-size="6.8" dy="1.5">10</tspan><tspan dy="-1.5">)</tspan></text>
<text transform="translate(383.5,496.30) rotate(-90)" text-anchor="middle"><tspan font-style="italic">Re</tspan>(<tspan font-style="italic">c</tspan><tspan font-size="6.8" dy="1.5">01</tspan><tspan dy="-1.5">) and </tspan><tspan font-style="italic">Re</tspan>(<tspan font-style="italic">c</tspan><tspan font-size="6.8" dy="1.5">10</tspan><tspan dy="-1.5">)</tspan></text>
<text transform="translate(7.0,702.80) rotate(-90)" text-anchor="middle"><tspan font-style="italic">Im</tspan>(<tspan font-style="italic">c</tspan><tspan font-size="6.8" dy="1.5">10</tspan><tspan dy="-1.5">)</tspan></text>
<text transform="translate(383.5,702.30) rotate(-90)" text-anchor="middle"><tspan font-style="italic">Im</tspan>(<tspan font-style="italic">c</tspan><tspan font-size="6.8" dy="1.5">10</tspan><tspan dy="-1.5">)</tspan></text>
</g>
<g font-family="DejaVu Sans, Liberation Sans, sans-serif" font-size="11.67" fill="#000" stroke="#000" stroke-width="0.16">
<text x="111.00" y="853.5">Column (a) For <tspan font-style="italic" dx="0.3">E</tspan><tspan font-size="8.17" dy="2.5" font-style="italic">t</tspan><tspan dy="-2.5" dx="0.4">/</tspan><tspan font-style="italic" dx="0.3">d</tspan><tspan dx="1.6">=</tspan><tspan dx="1.9">0.1</tspan></text>
<text x="465.00" y="853.5">Column (b) For <tspan font-style="italic" dx="0.3">E</tspan><tspan font-size="8.17" dy="2.5" font-style="italic">t</tspan><tspan dy="-2.5" dx="0.4">/</tspan><tspan font-style="italic" dx="0.3">d</tspan><tspan dx="1.6">=</tspan><tspan dx="1.9">6.0</tspan></text>
</g>
</svg>
</body></html>
